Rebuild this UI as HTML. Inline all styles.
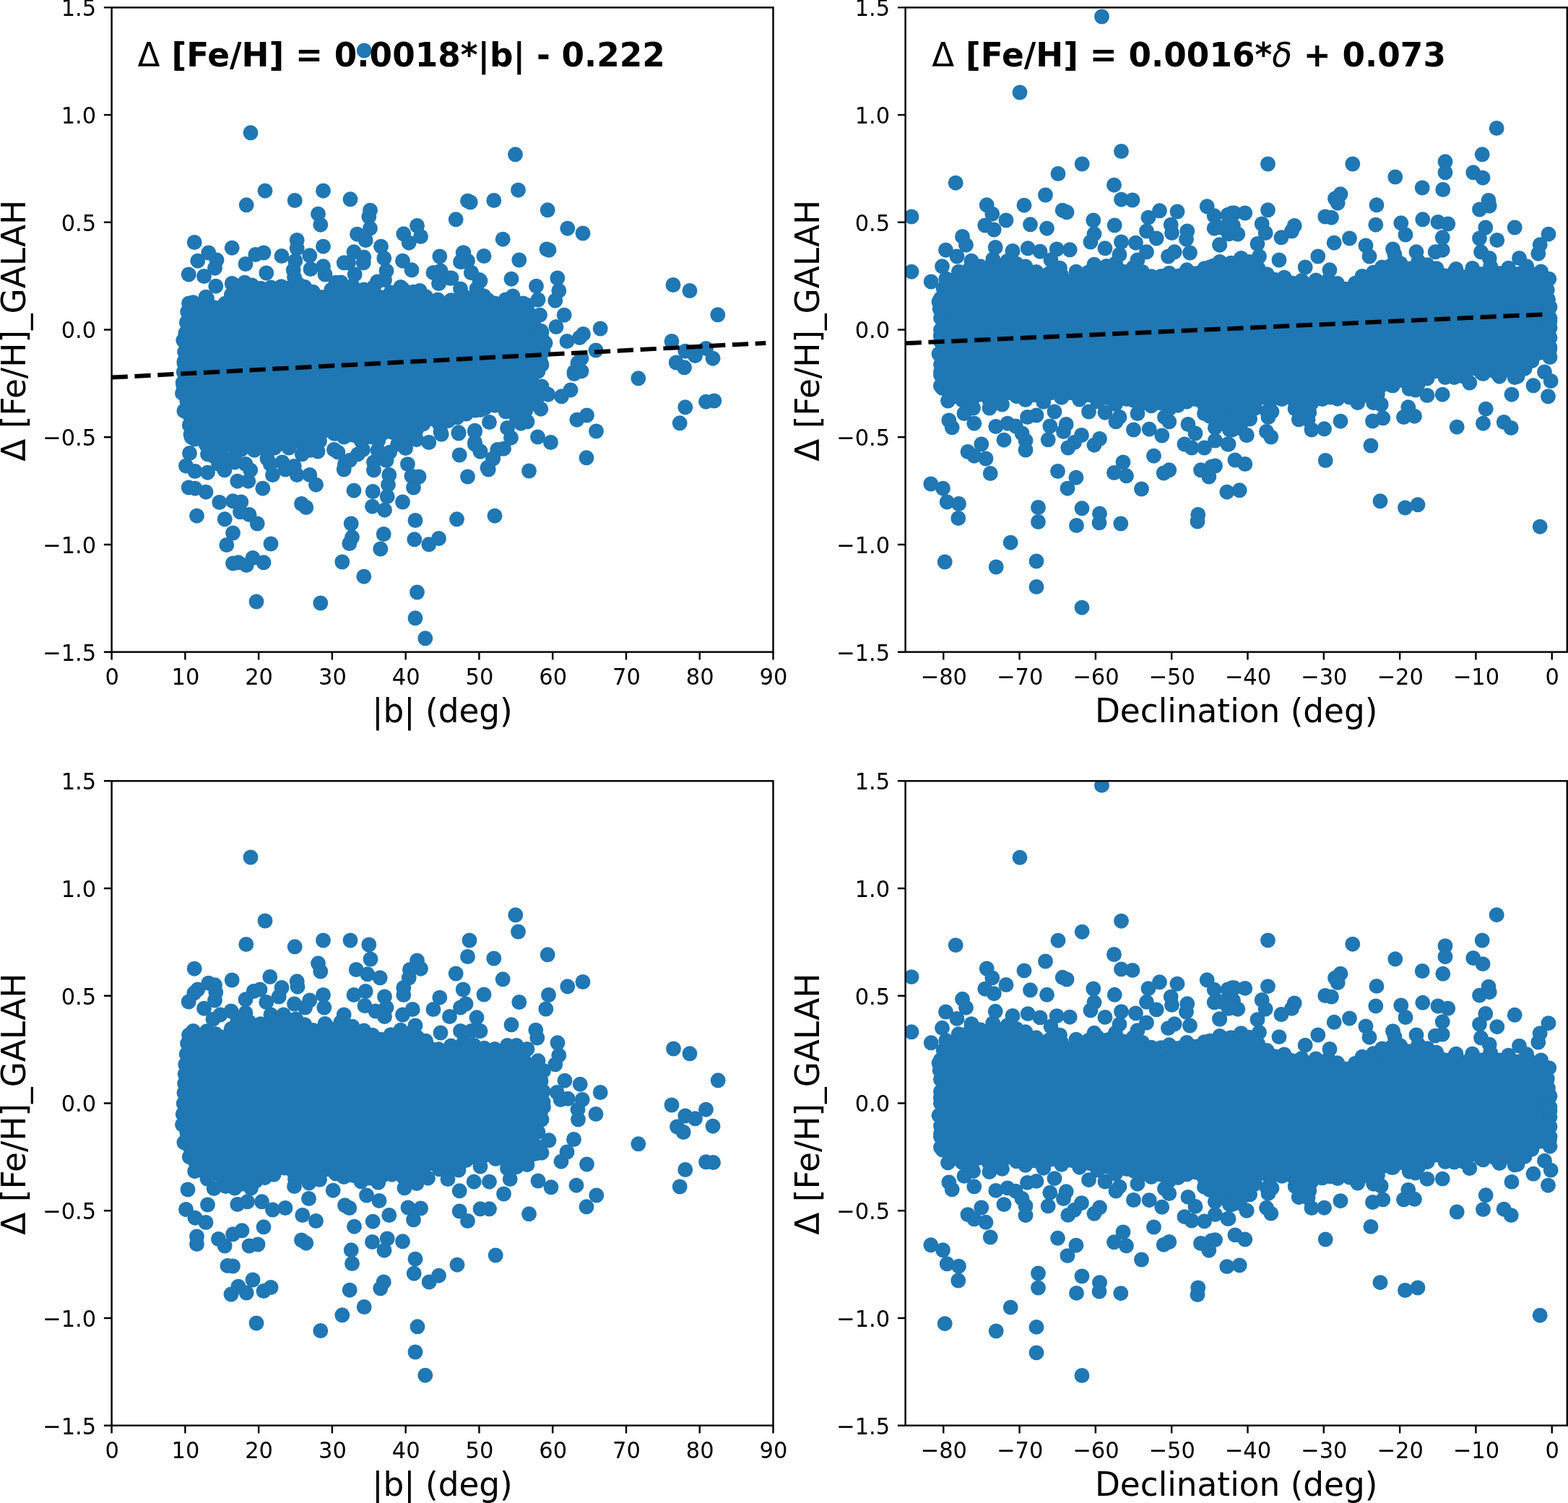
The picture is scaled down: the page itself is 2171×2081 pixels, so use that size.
<!DOCTYPE html>
<html><head><meta charset="utf-8"><style>html,body{margin:0;padding:0;background:#fff;overflow:hidden}svg{display:block}</style></head>
<body><svg width="2171" height="2081" viewBox="0 0 2171 2081">
<rect width="2171" height="2081" fill="#fff"/>
<clipPath id="clipTL"><rect x="154.6" y="10.4" width="915.9" height="892.3"/></clipPath>
<g clip-path="url(#clipTL)" fill="#1f77b4">
<polygon points="257.0,418.0 282.0,411.0 307.0,418.0 325.0,393.0 357.0,396.0 386.0,393.0 407.0,386.0 443.0,407.0 471.0,386.0 504.0,396.0 529.0,407.0 557.0,393.0 593.0,407.0 611.0,418.0 646.0,407.0 675.0,414.0 700.0,421.0 729.0,418.0 743.0,436.0 754.0,457.0 757.0,471.0 757.0,486.0 750.0,514.0 743.0,532.0 750.0,550.0 745.0,560.0 720.0,580.0 690.0,562.5 662.5,570.0 637.5,580.0 612.5,590.0 590.0,590.0 580.0,612.5 562.5,620.0 545.0,602.5 525.0,615.0 500.0,615.0 475.0,610.0 450.0,600.0 440.0,615.0 425.0,620.0 405.0,615.0 390.0,600.0 375.0,610.0 350.0,620.0 330.0,625.0 305.0,620.0 282.5,620.0 265.0,610.0 257.5,590.0 250.0,570.0 247.5,545.0 250.0,500.0 252.0,460.0 255.0,430.0"/>
<circle cx="261.6" cy="419.9" r="10.45"/>
<circle cx="286.5" cy="413.2" r="10.45"/>
<circle cx="311.5" cy="420.3" r="10.45"/>
<circle cx="320.3" cy="408.1" r="10.45"/>
<circle cx="329.1" cy="395.9" r="10.45"/>
<circle cx="345.0" cy="397.5" r="10.45"/>
<circle cx="360.8" cy="399.2" r="10.45"/>
<circle cx="375.1" cy="397.9" r="10.45"/>
<circle cx="389.4" cy="396.7" r="10.45"/>
<circle cx="409.9" cy="390.1" r="10.45"/>
<circle cx="421.7" cy="397.2" r="10.45"/>
<circle cx="433.5" cy="404.3" r="10.45"/>
<circle cx="445.3" cy="411.4" r="10.45"/>
<circle cx="458.7" cy="401.2" r="10.45"/>
<circle cx="472.0" cy="390.9" r="10.45"/>
<circle cx="487.9" cy="396.0" r="10.45"/>
<circle cx="503.8" cy="401.0" r="10.45"/>
<circle cx="515.7" cy="406.4" r="10.45"/>
<circle cx="527.6" cy="411.8" r="10.45"/>
<circle cx="541.2" cy="404.7" r="10.45"/>
<circle cx="554.8" cy="397.5" r="10.45"/>
<circle cx="572.2" cy="404.2" r="10.45"/>
<circle cx="589.7" cy="410.8" r="10.45"/>
<circle cx="607.2" cy="421.3" r="10.45"/>
<circle cx="624.6" cy="415.6" r="10.45"/>
<circle cx="642.0" cy="409.9" r="10.45"/>
<circle cx="656.3" cy="413.2" r="10.45"/>
<circle cx="670.7" cy="416.5" r="10.45"/>
<circle cx="695.5" cy="423.1" r="10.45"/>
<circle cx="709.9" cy="421.5" r="10.45"/>
<circle cx="724.4" cy="419.9" r="10.45"/>
<circle cx="738.2" cy="437.5" r="10.45"/>
<circle cx="749.1" cy="458.1" r="10.45"/>
<circle cx="752.1" cy="471.8" r="10.45"/>
<circle cx="752.0" cy="486.5" r="10.45"/>
<circle cx="748.5" cy="500.3" r="10.45"/>
<circle cx="745.0" cy="514.0" r="10.45"/>
<circle cx="738.0" cy="531.6" r="10.45"/>
<circle cx="745.0" cy="549.3" r="10.45"/>
<circle cx="740.1" cy="559.1" r="10.45"/>
<circle cx="727.6" cy="568.8" r="10.45"/>
<circle cx="715.2" cy="578.6" r="10.45"/>
<circle cx="700.2" cy="569.9" r="10.45"/>
<circle cx="685.2" cy="561.3" r="10.45"/>
<circle cx="671.4" cy="564.9" r="10.45"/>
<circle cx="657.8" cy="568.4" r="10.45"/>
<circle cx="645.4" cy="573.1" r="10.45"/>
<circle cx="633.0" cy="577.9" r="10.45"/>
<circle cx="620.6" cy="582.6" r="10.45"/>
<circle cx="608.3" cy="587.2" r="10.45"/>
<circle cx="586.1" cy="586.8" r="10.45"/>
<circle cx="576.8" cy="608.7" r="10.45"/>
<circle cx="559.9" cy="615.7" r="10.45"/>
<circle cx="542.7" cy="598.1" r="10.45"/>
<circle cx="523.7" cy="610.2" r="10.45"/>
<circle cx="499.9" cy="610.0" r="10.45"/>
<circle cx="476.2" cy="605.1" r="10.45"/>
<circle cx="464.3" cy="600.4" r="10.45"/>
<circle cx="452.5" cy="595.6" r="10.45"/>
<circle cx="442.5" cy="610.7" r="10.45"/>
<circle cx="427.9" cy="615.9" r="10.45"/>
<circle cx="408.4" cy="611.3" r="10.45"/>
<circle cx="393.9" cy="596.9" r="10.45"/>
<circle cx="379.0" cy="606.9" r="10.45"/>
<circle cx="366.5" cy="612.0" r="10.45"/>
<circle cx="354.1" cy="617.1" r="10.45"/>
<circle cx="334.2" cy="622.3" r="10.45"/>
<circle cx="309.4" cy="617.6" r="10.45"/>
<circle cx="287.0" cy="617.8" r="10.45"/>
<circle cx="269.6" cy="608.1" r="10.45"/>
<circle cx="262.3" cy="588.5" r="10.45"/>
<circle cx="254.9" cy="568.9" r="10.45"/>
<circle cx="252.5" cy="544.4" r="10.45"/>
<circle cx="253.3" cy="529.7" r="10.45"/>
<circle cx="254.2" cy="515.0" r="10.45"/>
<circle cx="255.0" cy="500.3" r="10.45"/>
<circle cx="255.6" cy="487.2" r="10.45"/>
<circle cx="256.3" cy="474.2" r="10.45"/>
<circle cx="256.9" cy="461.1" r="10.45"/>
<circle cx="258.3" cy="446.4" r="10.45"/>
<circle cx="259.7" cy="431.6" r="10.45"/>
<circle cx="504.2" cy="70.0" r="10.45"/>
<circle cx="347.0" cy="183.8" r="10.45"/>
<circle cx="367.0" cy="264.2" r="10.45"/>
<circle cx="447.5" cy="264.2" r="10.45"/>
<circle cx="341.2" cy="283.8" r="10.45"/>
<circle cx="408.2" cy="277.5" r="10.45"/>
<circle cx="485.0" cy="275.8" r="10.45"/>
<circle cx="440.5" cy="296.2" r="10.45"/>
<circle cx="443.8" cy="311.2" r="10.45"/>
<circle cx="512.5" cy="291.2" r="10.45"/>
<circle cx="510.8" cy="300.0" r="10.45"/>
<circle cx="512.5" cy="316.2" r="10.45"/>
<circle cx="494.5" cy="324.2" r="10.45"/>
<circle cx="506.2" cy="332.5" r="10.45"/>
<circle cx="490.0" cy="348.8" r="10.45"/>
<circle cx="503.8" cy="356.2" r="10.45"/>
<circle cx="503.2" cy="363.8" r="10.45"/>
<circle cx="482.5" cy="363.8" r="10.45"/>
<circle cx="491.2" cy="380.0" r="10.45"/>
<circle cx="527.5" cy="341.2" r="10.45"/>
<circle cx="531.8" cy="357.5" r="10.45"/>
<circle cx="535.0" cy="375.0" r="10.45"/>
<circle cx="532.5" cy="387.5" r="10.45"/>
<circle cx="522.5" cy="390.0" r="10.45"/>
<circle cx="558.8" cy="323.8" r="10.45"/>
<circle cx="577.5" cy="312.5" r="10.45"/>
<circle cx="582.5" cy="327.5" r="10.45"/>
<circle cx="566.2" cy="336.2" r="10.45"/>
<circle cx="631.2" cy="303.8" r="10.45"/>
<circle cx="647.5" cy="278.2" r="10.45"/>
<circle cx="651.2" cy="280.0" r="10.45"/>
<circle cx="683.8" cy="277.5" r="10.45"/>
<circle cx="608.8" cy="355.0" r="10.45"/>
<circle cx="641.2" cy="350.0" r="10.45"/>
<circle cx="637.5" cy="362.5" r="10.45"/>
<circle cx="647.5" cy="361.2" r="10.45"/>
<circle cx="670.0" cy="354.5" r="10.45"/>
<circle cx="557.5" cy="361.2" r="10.45"/>
<circle cx="570.0" cy="373.8" r="10.45"/>
<circle cx="600.0" cy="377.5" r="10.45"/>
<circle cx="610.0" cy="375.0" r="10.45"/>
<circle cx="622.5" cy="385.0" r="10.45"/>
<circle cx="652.5" cy="377.5" r="10.45"/>
<circle cx="665.0" cy="388.8" r="10.45"/>
<circle cx="607.5" cy="392.5" r="10.45"/>
<circle cx="660.0" cy="400.0" r="10.45"/>
<circle cx="637.5" cy="400.0" r="10.45"/>
<circle cx="675.0" cy="415.0" r="10.45"/>
<circle cx="606.2" cy="415.0" r="10.45"/>
<circle cx="269.2" cy="335.5" r="10.45"/>
<circle cx="321.2" cy="343.2" r="10.45"/>
<circle cx="288.8" cy="350.0" r="10.45"/>
<circle cx="300.0" cy="360.0" r="10.45"/>
<circle cx="273.8" cy="361.2" r="10.45"/>
<circle cx="297.5" cy="371.2" r="10.45"/>
<circle cx="261.2" cy="380.0" r="10.45"/>
<circle cx="282.5" cy="382.5" r="10.45"/>
<circle cx="340.0" cy="365.5" r="10.45"/>
<circle cx="353.8" cy="352.5" r="10.45"/>
<circle cx="365.0" cy="350.0" r="10.45"/>
<circle cx="390.0" cy="354.5" r="10.45"/>
<circle cx="368.8" cy="378.0" r="10.45"/>
<circle cx="411.2" cy="332.5" r="10.45"/>
<circle cx="411.2" cy="343.8" r="10.45"/>
<circle cx="428.8" cy="353.8" r="10.45"/>
<circle cx="447.5" cy="341.2" r="10.45"/>
<circle cx="408.8" cy="361.2" r="10.45"/>
<circle cx="406.2" cy="373.8" r="10.45"/>
<circle cx="407.5" cy="383.8" r="10.45"/>
<circle cx="447.5" cy="368.8" r="10.45"/>
<circle cx="450.0" cy="380.0" r="10.45"/>
<circle cx="430.0" cy="372.5" r="10.45"/>
<circle cx="465.0" cy="391.2" r="10.45"/>
<circle cx="476.2" cy="363.8" r="10.45"/>
<circle cx="298.8" cy="396.2" r="10.45"/>
<circle cx="321.2" cy="392.5" r="10.45"/>
<circle cx="338.8" cy="391.2" r="10.45"/>
<circle cx="348.8" cy="395.0" r="10.45"/>
<circle cx="376.2" cy="402.5" r="10.45"/>
<circle cx="393.8" cy="398.8" r="10.45"/>
<circle cx="415.0" cy="395.0" r="10.45"/>
<circle cx="500.0" cy="402.5" r="10.45"/>
<circle cx="517.5" cy="397.5" r="10.45"/>
<circle cx="557.5" cy="400.0" r="10.45"/>
<circle cx="581.2" cy="402.5" r="10.45"/>
<circle cx="582.5" cy="413.8" r="10.45"/>
<circle cx="285.0" cy="411.2" r="10.45"/>
<circle cx="267.5" cy="418.8" r="10.45"/>
<circle cx="268.8" cy="430.0" r="10.45"/>
<circle cx="267.5" cy="440.0" r="10.45"/>
<circle cx="266.2" cy="455.0" r="10.45"/>
<circle cx="258.8" cy="470.0" r="10.45"/>
<circle cx="260.0" cy="500.0" r="10.45"/>
<circle cx="713.5" cy="213.8" r="10.45"/>
<circle cx="717.5" cy="263.2" r="10.45"/>
<circle cx="758.2" cy="290.8" r="10.45"/>
<circle cx="785.8" cy="316.2" r="10.45"/>
<circle cx="807.0" cy="323.0" r="10.45"/>
<circle cx="696.2" cy="331.2" r="10.45"/>
<circle cx="757.0" cy="345.0" r="10.45"/>
<circle cx="760.0" cy="346.2" r="10.45"/>
<circle cx="718.8" cy="360.0" r="10.45"/>
<circle cx="708.0" cy="386.2" r="10.45"/>
<circle cx="742.5" cy="396.2" r="10.45"/>
<circle cx="771.8" cy="385.0" r="10.45"/>
<circle cx="773.8" cy="402.5" r="10.45"/>
<circle cx="768.8" cy="416.2" r="10.45"/>
<circle cx="745.0" cy="415.0" r="10.45"/>
<circle cx="781.2" cy="436.2" r="10.45"/>
<circle cx="747.5" cy="436.2" r="10.45"/>
<circle cx="831.2" cy="455.0" r="10.45"/>
<circle cx="807.5" cy="462.5" r="10.45"/>
<circle cx="802.5" cy="467.5" r="10.45"/>
<circle cx="785.0" cy="472.5" r="10.45"/>
<circle cx="770.0" cy="452.5" r="10.45"/>
<circle cx="932.0" cy="394.5" r="10.45"/>
<circle cx="955.0" cy="402.5" r="10.45"/>
<circle cx="993.8" cy="435.8" r="10.45"/>
<circle cx="930.0" cy="472.5" r="10.45"/>
<circle cx="948.8" cy="486.2" r="10.45"/>
<circle cx="962.5" cy="492.5" r="10.45"/>
<circle cx="977.5" cy="482.5" r="10.45"/>
<circle cx="987.0" cy="496.2" r="10.45"/>
<circle cx="936.2" cy="502.0" r="10.45"/>
<circle cx="947.5" cy="508.8" r="10.45"/>
<circle cx="825.0" cy="485.0" r="10.45"/>
<circle cx="805.0" cy="496.2" r="10.45"/>
<circle cx="800.0" cy="502.5" r="10.45"/>
<circle cx="795.0" cy="515.0" r="10.45"/>
<circle cx="750.0" cy="505.0" r="10.45"/>
<circle cx="710.0" cy="410.0" r="10.45"/>
<circle cx="730.0" cy="422.5" r="10.45"/>
<circle cx="750.0" cy="460.0" r="10.45"/>
<circle cx="755.0" cy="475.0" r="10.45"/>
<circle cx="642.0" cy="350.0" r="10.45"/>
<circle cx="638.8" cy="362.5" r="10.45"/>
<circle cx="652.5" cy="377.5" r="10.45"/>
<circle cx="663.8" cy="387.5" r="10.45"/>
<circle cx="625.0" cy="385.0" r="10.45"/>
<circle cx="670.0" cy="410.0" r="10.45"/>
<circle cx="685.0" cy="420.0" r="10.45"/>
<circle cx="700.0" cy="415.0" r="10.45"/>
<circle cx="272.5" cy="714.2" r="10.45"/>
<circle cx="311.2" cy="718.8" r="10.45"/>
<circle cx="322.5" cy="738.0" r="10.45"/>
<circle cx="313.8" cy="754.5" r="10.45"/>
<circle cx="375.0" cy="753.0" r="10.45"/>
<circle cx="356.2" cy="725.0" r="10.45"/>
<circle cx="345.0" cy="712.5" r="10.45"/>
<circle cx="332.5" cy="708.8" r="10.45"/>
<circle cx="333.8" cy="695.0" r="10.45"/>
<circle cx="322.5" cy="693.8" r="10.45"/>
<circle cx="303.8" cy="695.5" r="10.45"/>
<circle cx="285.0" cy="681.2" r="10.45"/>
<circle cx="270.0" cy="676.2" r="10.45"/>
<circle cx="261.2" cy="675.0" r="10.45"/>
<circle cx="257.5" cy="645.0" r="10.45"/>
<circle cx="270.0" cy="652.5" r="10.45"/>
<circle cx="287.5" cy="654.2" r="10.45"/>
<circle cx="328.8" cy="666.2" r="10.45"/>
<circle cx="343.8" cy="666.2" r="10.45"/>
<circle cx="363.8" cy="676.2" r="10.45"/>
<circle cx="377.5" cy="657.5" r="10.45"/>
<circle cx="395.0" cy="650.0" r="10.45"/>
<circle cx="411.2" cy="657.5" r="10.45"/>
<circle cx="428.8" cy="657.5" r="10.45"/>
<circle cx="437.5" cy="671.2" r="10.45"/>
<circle cx="417.5" cy="697.5" r="10.45"/>
<circle cx="423.8" cy="702.5" r="10.45"/>
<circle cx="322.5" cy="780.0" r="10.45"/>
<circle cx="330.0" cy="778.8" r="10.45"/>
<circle cx="341.2" cy="782.5" r="10.45"/>
<circle cx="350.0" cy="772.5" r="10.45"/>
<circle cx="365.0" cy="778.8" r="10.45"/>
<circle cx="355.0" cy="833.0" r="10.45"/>
<circle cx="443.8" cy="835.0" r="10.45"/>
<circle cx="473.8" cy="778.0" r="10.45"/>
<circle cx="503.8" cy="798.2" r="10.45"/>
<circle cx="486.2" cy="725.0" r="10.45"/>
<circle cx="487.5" cy="743.8" r="10.45"/>
<circle cx="483.8" cy="752.5" r="10.45"/>
<circle cx="490.0" cy="679.2" r="10.45"/>
<circle cx="516.2" cy="680.5" r="10.45"/>
<circle cx="515.5" cy="701.2" r="10.45"/>
<circle cx="532.5" cy="706.2" r="10.45"/>
<circle cx="536.2" cy="687.5" r="10.45"/>
<circle cx="557.5" cy="695.0" r="10.45"/>
<circle cx="531.2" cy="739.5" r="10.45"/>
<circle cx="526.8" cy="760.0" r="10.45"/>
<circle cx="575.0" cy="720.5" r="10.45"/>
<circle cx="573.8" cy="746.8" r="10.45"/>
<circle cx="593.8" cy="753.8" r="10.45"/>
<circle cx="607.5" cy="745.5" r="10.45"/>
<circle cx="632.5" cy="718.8" r="10.45"/>
<circle cx="685.0" cy="714.2" r="10.45"/>
<circle cx="577.5" cy="820.0" r="10.45"/>
<circle cx="575.0" cy="855.8" r="10.45"/>
<circle cx="588.8" cy="883.8" r="10.45"/>
<circle cx="572.5" cy="675.0" r="10.45"/>
<circle cx="580.0" cy="660.0" r="10.45"/>
<circle cx="537.5" cy="671.2" r="10.45"/>
<circle cx="538.8" cy="657.5" r="10.45"/>
<circle cx="535.0" cy="637.5" r="10.45"/>
<circle cx="517.5" cy="640.0" r="10.45"/>
<circle cx="476.2" cy="650.0" r="10.45"/>
<circle cx="477.5" cy="642.5" r="10.45"/>
<circle cx="647.5" cy="660.0" r="10.45"/>
<circle cx="636.2" cy="630.0" r="10.45"/>
<circle cx="635.0" cy="600.0" r="10.45"/>
<circle cx="657.5" cy="597.5" r="10.45"/>
<circle cx="657.5" cy="615.0" r="10.45"/>
<circle cx="665.0" cy="625.0" r="10.45"/>
<circle cx="676.2" cy="650.0" r="10.45"/>
<circle cx="682.5" cy="635.0" r="10.45"/>
<circle cx="688.8" cy="622.5" r="10.45"/>
<circle cx="677.5" cy="584.5" r="10.45"/>
<circle cx="665.0" cy="567.5" r="10.45"/>
<circle cx="593.8" cy="612.5" r="10.45"/>
<circle cx="550.0" cy="602.5" r="10.45"/>
<circle cx="610.0" cy="597.5" r="10.45"/>
<circle cx="462.5" cy="622.5" r="10.45"/>
<circle cx="462.5" cy="600.0" r="10.45"/>
<circle cx="502.5" cy="622.5" r="10.45"/>
<circle cx="440.0" cy="625.0" r="10.45"/>
<circle cx="423.8" cy="617.5" r="10.45"/>
<circle cx="392.5" cy="585.0" r="10.45"/>
<circle cx="370.0" cy="635.0" r="10.45"/>
<circle cx="380.0" cy="620.0" r="10.45"/>
<circle cx="400.0" cy="620.0" r="10.45"/>
<circle cx="295.0" cy="631.2" r="10.45"/>
<circle cx="310.0" cy="635.0" r="10.45"/>
<circle cx="325.0" cy="640.0" r="10.45"/>
<circle cx="340.0" cy="642.5" r="10.45"/>
<circle cx="262.5" cy="627.5" r="10.45"/>
<circle cx="265.0" cy="605.0" r="10.45"/>
<circle cx="285.0" cy="615.0" r="10.45"/>
<circle cx="262.5" cy="571.2" r="10.45"/>
<circle cx="253.8" cy="543.8" r="10.45"/>
<circle cx="253.8" cy="533.8" r="10.45"/>
<circle cx="255.0" cy="502.5" r="10.45"/>
<circle cx="253.8" cy="471.2" r="10.45"/>
<circle cx="265.0" cy="452.5" r="10.45"/>
<circle cx="883.8" cy="523.8" r="10.45"/>
<circle cx="948.8" cy="563.8" r="10.45"/>
<circle cx="941.2" cy="585.8" r="10.45"/>
<circle cx="977.5" cy="556.2" r="10.45"/>
<circle cx="988.8" cy="555.0" r="10.45"/>
<circle cx="798.8" cy="581.2" r="10.45"/>
<circle cx="812.5" cy="575.0" r="10.45"/>
<circle cx="825.5" cy="597.0" r="10.45"/>
<circle cx="812.0" cy="633.8" r="10.45"/>
<circle cx="732.5" cy="652.0" r="10.45"/>
<circle cx="762.5" cy="612.5" r="10.45"/>
<circle cx="744.5" cy="605.0" r="10.45"/>
<circle cx="707.5" cy="606.2" r="10.45"/>
<circle cx="697.5" cy="621.2" r="10.45"/>
<circle cx="702.5" cy="592.5" r="10.45"/>
<circle cx="730.0" cy="583.8" r="10.45"/>
<circle cx="721.2" cy="586.2" r="10.45"/>
<circle cx="748.8" cy="566.2" r="10.45"/>
<circle cx="758.8" cy="546.2" r="10.45"/>
<circle cx="777.5" cy="548.8" r="10.45"/>
<circle cx="790.0" cy="540.0" r="10.45"/>
<circle cx="750.0" cy="535.0" r="10.45"/>
<circle cx="805.0" cy="513.8" r="10.45"/>
<circle cx="795.0" cy="517.5" r="10.45"/>
<circle cx="657.5" cy="596.2" r="10.45"/>
<circle cx="635.0" cy="598.8" r="10.45"/>
<circle cx="657.5" cy="612.5" r="10.45"/>
<circle cx="665.0" cy="625.0" r="10.45"/>
<circle cx="682.5" cy="635.0" r="10.45"/>
<circle cx="675.0" cy="647.5" r="10.45"/>
<circle cx="275.1" cy="606.8" r="10.45"/>
<circle cx="297.1" cy="615.1" r="10.45"/>
<circle cx="313.7" cy="615.1" r="10.45"/>
<circle cx="335.7" cy="615.1" r="10.45"/>
<circle cx="352.2" cy="623.4" r="10.45"/>
<circle cx="368.8" cy="623.4" r="10.45"/>
<circle cx="385.3" cy="615.1" r="10.45"/>
<circle cx="401.8" cy="609.6" r="10.45"/>
<circle cx="418.3" cy="628.9" r="10.45"/>
<circle cx="390.8" cy="639.9" r="10.45"/>
<circle cx="407.3" cy="645.4" r="10.45"/>
<circle cx="346.7" cy="650.9" r="10.45"/>
<circle cx="310.9" cy="650.9" r="10.45"/>
<circle cx="302.6" cy="642.6" r="10.45"/>
<circle cx="523.0" cy="623.4" r="10.45"/>
<circle cx="517.5" cy="650.9" r="10.45"/>
<circle cx="564.4" cy="642.6" r="10.45"/>
<circle cx="569.9" cy="659.2" r="10.45"/>
<circle cx="561.6" cy="620.6" r="10.45"/>
<circle cx="550.6" cy="615.1" r="10.45"/>
<circle cx="539.6" cy="626.1" r="10.45"/>
<circle cx="611.2" cy="601.3" r="10.45"/>
<circle cx="467.9" cy="626.1" r="10.45"/>
<circle cx="484.5" cy="637.1" r="10.45"/>
<circle cx="495.5" cy="628.9" r="10.45"/>
<circle cx="264.1" cy="601.3" r="10.45"/>
<circle cx="287.5" cy="628.9" r="10.45"/>
<circle cx="324.7" cy="631.6" r="10.45"/>
<circle cx="374.3" cy="642.6" r="10.45"/>
<circle cx="429.4" cy="623.4" r="10.45"/>
</g>
<g clip-path="url(#clipTL)"><line x1="154.6" y1="522.6" x2="1060.3" y2="474.9" stroke="#000" stroke-width="6.0" stroke-dasharray="22.27 9.6"/></g>
<rect x="154.6" y="10.4" width="915.9" height="892.3" fill="none" stroke="#000" stroke-width="2.44" stroke-linejoin="miter"/>
<path d="M143.9 902.70H154.6M143.9 753.98H154.6M143.9 605.27H154.6M143.9 456.55H154.6M143.9 307.83H154.6M143.9 159.12H154.6M143.9 10.40H154.6M154.60 902.7V913.4M256.37 902.7V913.4M358.13 902.7V913.4M459.90 902.7V913.4M561.67 902.7V913.4M663.43 902.7V913.4M765.20 902.7V913.4M866.97 902.7V913.4M968.73 902.7V913.4M1070.50 902.7V913.4" stroke="#000" stroke-width="2.44" fill="none"/>
<g font-family="DejaVu Sans, sans-serif" font-size="30.56" fill="#000">
<text transform="translate(133.2,914.6) scale(1,1.065)" text-anchor="end">−1.5</text>
<text transform="translate(133.2,765.9) scale(1,1.065)" text-anchor="end">−1.0</text>
<text transform="translate(133.2,617.2) scale(1,1.065)" text-anchor="end">−0.5</text>
<text transform="translate(133.2,468.4) scale(1,1.065)" text-anchor="end">0.0</text>
<text transform="translate(133.2,319.7) scale(1,1.065)" text-anchor="end">0.5</text>
<text transform="translate(133.2,171.0) scale(1,1.065)" text-anchor="end">1.0</text>
<text transform="translate(133.2,22.3) scale(1,1.065)" text-anchor="end">1.5</text>
<text transform="translate(155.1,947.9) scale(1,1.065)" text-anchor="middle">0</text>
<text transform="translate(256.9,947.9) scale(1,1.065)" text-anchor="middle">10</text>
<text transform="translate(358.6,947.9) scale(1,1.065)" text-anchor="middle">20</text>
<text transform="translate(460.4,947.9) scale(1,1.065)" text-anchor="middle">30</text>
<text transform="translate(562.2,947.9) scale(1,1.065)" text-anchor="middle">40</text>
<text transform="translate(663.9,947.9) scale(1,1.065)" text-anchor="middle">50</text>
<text transform="translate(765.7,947.9) scale(1,1.065)" text-anchor="middle">60</text>
<text transform="translate(867.5,947.9) scale(1,1.065)" text-anchor="middle">70</text>
<text transform="translate(969.2,947.9) scale(1,1.065)" text-anchor="middle">80</text>
<text transform="translate(1071.0,947.9) scale(1,1.065)" text-anchor="middle">90</text>
</g>
<text x="612.5" y="999.5" text-anchor="middle" font-family="DejaVu Sans, sans-serif" font-size="45.35">|b| (deg)</text>
<text transform="translate(34.9,457.8) rotate(-90)" text-anchor="middle" font-family="DejaVu Sans, sans-serif" font-size="45.35">Δ [Fe/H]_GALAH</text>
<clipPath id="clipTR"><rect x="1253.6" y="10.4" width="916.2" height="892.3"/></clipPath>
<g clip-path="url(#clipTR)" fill="#1f77b4">
<polygon points="1297.5,412.5 1305.0,385.0 1322.5,375.0 1352.5,367.5 1370.0,357.5 1390.0,360.0 1415.0,367.5 1430.0,375.0 1465.0,380.0 1490.0,380.0 1515.0,370.0 1540.0,362.5 1565.0,367.5 1590.0,380.0 1605.0,380.0 1615.0,375.0 1640.0,370.0 1665.0,367.5 1690.0,360.0 1730.0,357.5 1756.0,375.0 1781.0,380.0 1806.0,385.0 1826.0,385.0 1843.5,385.0 1856.0,390.0 1881.0,390.0 1906.0,375.0 1931.0,365.0 1943.5,362.5 1968.5,360.0 1993.5,370.0 2018.5,375.0 2043.5,370.0 2068.5,367.5 2093.5,370.0 2118.5,367.5 2138.5,375.0 2146.0,387.5 2151.0,440.0 2151.0,495.0 2126.0,500.0 2106.0,522.0 2081.0,522.0 2056.0,517.0 2031.0,522.0 2006.0,522.0 1981.0,525.0 1956.0,540.0 1931.0,535.0 1918.0,535.0 1906.0,560.0 1881.0,555.0 1856.0,555.0 1831.0,555.0 1816.0,575.0 1801.0,585.0 1786.0,540.0 1771.0,540.0 1756.0,575.0 1746.0,555.0 1731.0,585.0 1706.0,597.0 1681.0,597.0 1665.0,565.0 1640.0,560.0 1615.0,570.0 1590.0,565.0 1565.0,557.0 1540.0,562.0 1515.0,558.0 1490.0,555.0 1465.0,552.0 1440.0,558.0 1415.0,555.0 1390.0,545.0 1365.0,555.0 1340.0,560.0 1315.0,550.0 1297.5,535.0 1297.5,490.0 1297.5,440.0"/>
<circle cx="1302.5" cy="413.1" r="10.45"/>
<circle cx="1306.2" cy="399.5" r="10.45"/>
<circle cx="1309.9" cy="385.9" r="10.45"/>
<circle cx="1327.4" cy="376.1" r="10.45"/>
<circle cx="1342.4" cy="372.4" r="10.45"/>
<circle cx="1357.3" cy="368.8" r="10.45"/>
<circle cx="1374.8" cy="358.9" r="10.45"/>
<circle cx="1394.8" cy="361.5" r="10.45"/>
<circle cx="1407.3" cy="365.2" r="10.45"/>
<circle cx="1419.8" cy="369.0" r="10.45"/>
<circle cx="1434.8" cy="376.4" r="10.45"/>
<circle cx="1452.3" cy="379.0" r="10.45"/>
<circle cx="1469.8" cy="381.5" r="10.45"/>
<circle cx="1494.7" cy="381.7" r="10.45"/>
<circle cx="1507.1" cy="376.9" r="10.45"/>
<circle cx="1519.6" cy="372.1" r="10.45"/>
<circle cx="1532.0" cy="368.5" r="10.45"/>
<circle cx="1544.4" cy="364.9" r="10.45"/>
<circle cx="1569.3" cy="370.1" r="10.45"/>
<circle cx="1581.7" cy="376.4" r="10.45"/>
<circle cx="1594.2" cy="382.7" r="10.45"/>
<circle cx="1609.1" cy="382.9" r="10.45"/>
<circle cx="1618.8" cy="378.2" r="10.45"/>
<circle cx="1643.3" cy="373.8" r="10.45"/>
<circle cx="1667.5" cy="371.8" r="10.45"/>
<circle cx="1679.5" cy="368.3" r="10.45"/>
<circle cx="1691.4" cy="364.8" r="10.45"/>
<circle cx="1704.2" cy="364.1" r="10.45"/>
<circle cx="1716.9" cy="363.3" r="10.45"/>
<circle cx="1729.6" cy="362.5" r="10.45"/>
<circle cx="1741.9" cy="371.1" r="10.45"/>
<circle cx="1754.1" cy="379.6" r="10.45"/>
<circle cx="1778.1" cy="384.1" r="10.45"/>
<circle cx="1802.3" cy="388.4" r="10.45"/>
<circle cx="1822.0" cy="388.0" r="10.45"/>
<circle cx="1839.3" cy="387.7" r="10.45"/>
<circle cx="1851.6" cy="392.4" r="10.45"/>
<circle cx="1876.5" cy="392.1" r="10.45"/>
<circle cx="1889.0" cy="384.6" r="10.45"/>
<circle cx="1901.5" cy="377.1" r="10.45"/>
<circle cx="1914.0" cy="372.1" r="10.45"/>
<circle cx="1926.5" cy="367.1" r="10.45"/>
<circle cx="1938.9" cy="364.6" r="10.45"/>
<circle cx="1963.9" cy="361.9" r="10.45"/>
<circle cx="1976.3" cy="366.8" r="10.45"/>
<circle cx="1988.8" cy="371.6" r="10.45"/>
<circle cx="2013.7" cy="376.4" r="10.45"/>
<circle cx="2038.7" cy="371.4" r="10.45"/>
<circle cx="2063.7" cy="368.8" r="10.45"/>
<circle cx="2088.6" cy="371.2" r="10.45"/>
<circle cx="2113.6" cy="368.7" r="10.45"/>
<circle cx="2133.6" cy="376.0" r="10.45"/>
<circle cx="2141.1" cy="388.4" r="10.45"/>
<circle cx="2142.3" cy="401.3" r="10.45"/>
<circle cx="2143.5" cy="414.3" r="10.45"/>
<circle cx="2144.8" cy="427.3" r="10.45"/>
<circle cx="2146.0" cy="440.3" r="10.45"/>
<circle cx="2146.0" cy="453.9" r="10.45"/>
<circle cx="2146.0" cy="467.4" r="10.45"/>
<circle cx="2146.0" cy="481.0" r="10.45"/>
<circle cx="2146.0" cy="494.6" r="10.45"/>
<circle cx="2121.0" cy="499.5" r="10.45"/>
<circle cx="2111.0" cy="510.4" r="10.45"/>
<circle cx="2101.1" cy="521.2" r="10.45"/>
<circle cx="2076.1" cy="521.2" r="10.45"/>
<circle cx="2051.1" cy="516.2" r="10.45"/>
<circle cx="2026.1" cy="521.1" r="10.45"/>
<circle cx="2001.1" cy="521.0" r="10.45"/>
<circle cx="1976.1" cy="523.8" r="10.45"/>
<circle cx="1963.7" cy="531.1" r="10.45"/>
<circle cx="1951.2" cy="538.4" r="10.45"/>
<circle cx="1926.3" cy="533.4" r="10.45"/>
<circle cx="1913.3" cy="533.3" r="10.45"/>
<circle cx="1907.4" cy="545.5" r="10.45"/>
<circle cx="1901.6" cy="557.7" r="10.45"/>
<circle cx="1876.7" cy="552.5" r="10.45"/>
<circle cx="1851.9" cy="552.2" r="10.45"/>
<circle cx="1827.2" cy="551.8" r="10.45"/>
<circle cx="1812.8" cy="571.2" r="10.45"/>
<circle cx="1798.3" cy="580.8" r="10.45"/>
<circle cx="1793.1" cy="565.9" r="10.45"/>
<circle cx="1788.0" cy="551.0" r="10.45"/>
<circle cx="1782.8" cy="536.2" r="10.45"/>
<circle cx="1768.3" cy="535.8" r="10.45"/>
<circle cx="1761.4" cy="552.9" r="10.45"/>
<circle cx="1754.5" cy="570.2" r="10.45"/>
<circle cx="1744.7" cy="550.2" r="10.45"/>
<circle cx="1737.7" cy="565.1" r="10.45"/>
<circle cx="1730.6" cy="580.0" r="10.45"/>
<circle cx="1718.6" cy="586.0" r="10.45"/>
<circle cx="1706.6" cy="592.0" r="10.45"/>
<circle cx="1682.4" cy="592.2" r="10.45"/>
<circle cx="1674.9" cy="576.4" r="10.45"/>
<circle cx="1667.4" cy="560.6" r="10.45"/>
<circle cx="1643.2" cy="556.2" r="10.45"/>
<circle cx="1630.9" cy="561.3" r="10.45"/>
<circle cx="1618.5" cy="566.4" r="10.45"/>
<circle cx="1593.9" cy="561.9" r="10.45"/>
<circle cx="1581.6" cy="558.2" r="10.45"/>
<circle cx="1569.3" cy="554.4" r="10.45"/>
<circle cx="1544.4" cy="559.6" r="10.45"/>
<circle cx="1519.5" cy="555.9" r="10.45"/>
<circle cx="1494.6" cy="553.1" r="10.45"/>
<circle cx="1469.7" cy="550.4" r="10.45"/>
<circle cx="1444.7" cy="556.4" r="10.45"/>
<circle cx="1419.8" cy="553.6" r="10.45"/>
<circle cx="1407.3" cy="548.7" r="10.45"/>
<circle cx="1394.9" cy="543.8" r="10.45"/>
<circle cx="1382.3" cy="548.8" r="10.45"/>
<circle cx="1369.8" cy="553.7" r="10.45"/>
<circle cx="1344.8" cy="558.8" r="10.45"/>
<circle cx="1332.4" cy="553.9" r="10.45"/>
<circle cx="1319.9" cy="549.0" r="10.45"/>
<circle cx="1302.4" cy="534.2" r="10.45"/>
<circle cx="1302.5" cy="519.3" r="10.45"/>
<circle cx="1302.5" cy="504.5" r="10.45"/>
<circle cx="1302.5" cy="489.7" r="10.45"/>
<circle cx="1302.5" cy="473.2" r="10.45"/>
<circle cx="1302.5" cy="456.7" r="10.45"/>
<circle cx="1302.5" cy="440.3" r="10.45"/>
<circle cx="1302.5" cy="426.7" r="10.45"/>
<circle cx="1525.5" cy="23.0" r="10.45"/>
<circle cx="1412.0" cy="128.0" r="10.45"/>
<circle cx="1552.5" cy="209.5" r="10.45"/>
<circle cx="1498.2" cy="227.0" r="10.45"/>
<circle cx="1465.0" cy="240.5" r="10.45"/>
<circle cx="1323.2" cy="253.2" r="10.45"/>
<circle cx="1447.5" cy="270.0" r="10.45"/>
<circle cx="1542.5" cy="256.2" r="10.45"/>
<circle cx="1552.5" cy="276.2" r="10.45"/>
<circle cx="1568.0" cy="277.0" r="10.45"/>
<circle cx="1262.0" cy="300.0" r="10.45"/>
<circle cx="1366.2" cy="283.8" r="10.45"/>
<circle cx="1373.8" cy="296.2" r="10.45"/>
<circle cx="1393.0" cy="305.0" r="10.45"/>
<circle cx="1418.0" cy="284.2" r="10.45"/>
<circle cx="1471.2" cy="291.2" r="10.45"/>
<circle cx="1477.0" cy="293.8" r="10.45"/>
<circle cx="1426.5" cy="310.8" r="10.45"/>
<circle cx="1449.5" cy="316.2" r="10.45"/>
<circle cx="1363.8" cy="312.0" r="10.45"/>
<circle cx="1376.2" cy="318.0" r="10.45"/>
<circle cx="1513.8" cy="305.0" r="10.45"/>
<circle cx="1543.2" cy="312.0" r="10.45"/>
<circle cx="1515.0" cy="323.8" r="10.45"/>
<circle cx="1510.0" cy="335.0" r="10.45"/>
<circle cx="1530.0" cy="343.8" r="10.45"/>
<circle cx="1332.5" cy="327.5" r="10.45"/>
<circle cx="1337.5" cy="339.2" r="10.45"/>
<circle cx="1309.5" cy="346.2" r="10.45"/>
<circle cx="1378.2" cy="342.5" r="10.45"/>
<circle cx="1402.0" cy="347.5" r="10.45"/>
<circle cx="1423.2" cy="343.8" r="10.45"/>
<circle cx="1440.0" cy="348.2" r="10.45"/>
<circle cx="1463.2" cy="345.0" r="10.45"/>
<circle cx="1481.2" cy="345.8" r="10.45"/>
<circle cx="1590.0" cy="301.2" r="10.45"/>
<circle cx="1605.5" cy="291.8" r="10.45"/>
<circle cx="1630.0" cy="293.0" r="10.45"/>
<circle cx="1621.2" cy="311.2" r="10.45"/>
<circle cx="1622.5" cy="322.5" r="10.45"/>
<circle cx="1643.8" cy="320.0" r="10.45"/>
<circle cx="1642.5" cy="331.2" r="10.45"/>
<circle cx="1601.2" cy="330.0" r="10.45"/>
<circle cx="1587.5" cy="320.0" r="10.45"/>
<circle cx="1671.2" cy="285.8" r="10.45"/>
<circle cx="1681.2" cy="298.8" r="10.45"/>
<circle cx="1681.2" cy="316.2" r="10.45"/>
<circle cx="1700.0" cy="297.5" r="10.45"/>
<circle cx="1708.8" cy="295.0" r="10.45"/>
<circle cx="1723.8" cy="295.0" r="10.45"/>
<circle cx="1707.5" cy="312.5" r="10.45"/>
<circle cx="1701.2" cy="323.8" r="10.45"/>
<circle cx="1713.8" cy="324.2" r="10.45"/>
<circle cx="1688.8" cy="339.2" r="10.45"/>
<circle cx="1552.5" cy="335.0" r="10.45"/>
<circle cx="1572.5" cy="336.2" r="10.45"/>
<circle cx="1587.5" cy="348.8" r="10.45"/>
<circle cx="1575.0" cy="360.0" r="10.45"/>
<circle cx="1550.0" cy="352.5" r="10.45"/>
<circle cx="1647.5" cy="350.0" r="10.45"/>
<circle cx="1626.2" cy="348.8" r="10.45"/>
<circle cx="1617.5" cy="355.0" r="10.45"/>
<circle cx="1717.5" cy="358.8" r="10.45"/>
<circle cx="1675.0" cy="370.0" r="10.45"/>
<circle cx="1688.8" cy="362.5" r="10.45"/>
<circle cx="1262.0" cy="376.2" r="10.45"/>
<circle cx="1289.2" cy="390.0" r="10.45"/>
<circle cx="1304.5" cy="368.8" r="10.45"/>
<circle cx="1345.0" cy="361.2" r="10.45"/>
<circle cx="1325.0" cy="355.0" r="10.45"/>
<circle cx="1467.5" cy="371.2" r="10.45"/>
<circle cx="1455.0" cy="360.0" r="10.45"/>
<circle cx="1490.0" cy="376.2" r="10.45"/>
<circle cx="1515.0" cy="366.2" r="10.45"/>
<circle cx="1607.5" cy="382.5" r="10.45"/>
<circle cx="1652.5" cy="380.0" r="10.45"/>
<circle cx="1300.0" cy="417.5" r="10.45"/>
<circle cx="1301.2" cy="427.5" r="10.45"/>
<circle cx="1315.0" cy="445.0" r="10.45"/>
<circle cx="1302.5" cy="465.0" r="10.45"/>
<circle cx="1755.5" cy="227.0" r="10.45"/>
<circle cx="1872.8" cy="227.0" r="10.45"/>
<circle cx="2072.2" cy="177.5" r="10.45"/>
<circle cx="2052.2" cy="213.8" r="10.45"/>
<circle cx="2001.0" cy="223.8" r="10.45"/>
<circle cx="2001.0" cy="238.8" r="10.45"/>
<circle cx="2039.8" cy="238.8" r="10.45"/>
<circle cx="2053.0" cy="246.2" r="10.45"/>
<circle cx="1931.8" cy="245.0" r="10.45"/>
<circle cx="1969.2" cy="260.0" r="10.45"/>
<circle cx="1997.8" cy="262.5" r="10.45"/>
<circle cx="1856.0" cy="268.8" r="10.45"/>
<circle cx="1848.5" cy="275.0" r="10.45"/>
<circle cx="1852.2" cy="281.2" r="10.45"/>
<circle cx="1906.0" cy="283.8" r="10.45"/>
<circle cx="2061.0" cy="277.5" r="10.45"/>
<circle cx="2062.2" cy="285.0" r="10.45"/>
<circle cx="2048.5" cy="290.0" r="10.45"/>
<circle cx="1755.5" cy="290.8" r="10.45"/>
<circle cx="1834.8" cy="300.0" r="10.45"/>
<circle cx="1843.5" cy="301.2" r="10.45"/>
<circle cx="1792.2" cy="312.5" r="10.45"/>
<circle cx="1788.5" cy="320.0" r="10.45"/>
<circle cx="1774.0" cy="328.8" r="10.45"/>
<circle cx="1747.2" cy="310.0" r="10.45"/>
<circle cx="1752.2" cy="322.5" r="10.45"/>
<circle cx="1741.0" cy="337.5" r="10.45"/>
<circle cx="1904.8" cy="311.2" r="10.45"/>
<circle cx="1939.8" cy="308.8" r="10.45"/>
<circle cx="1946.0" cy="325.0" r="10.45"/>
<circle cx="1969.8" cy="303.8" r="10.45"/>
<circle cx="1991.0" cy="307.5" r="10.45"/>
<circle cx="2004.8" cy="310.0" r="10.45"/>
<circle cx="1997.2" cy="328.8" r="10.45"/>
<circle cx="1997.2" cy="346.2" r="10.45"/>
<circle cx="1987.2" cy="348.8" r="10.45"/>
<circle cx="2056.8" cy="315.0" r="10.45"/>
<circle cx="2048.5" cy="330.0" r="10.45"/>
<circle cx="2072.8" cy="332.5" r="10.45"/>
<circle cx="2097.2" cy="315.0" r="10.45"/>
<circle cx="2144.0" cy="324.2" r="10.45"/>
<circle cx="2132.2" cy="338.8" r="10.45"/>
<circle cx="2129.8" cy="351.2" r="10.45"/>
<circle cx="2103.5" cy="357.5" r="10.45"/>
<circle cx="2050.5" cy="348.8" r="10.45"/>
<circle cx="2062.2" cy="357.5" r="10.45"/>
<circle cx="2144.8" cy="386.2" r="10.45"/>
<circle cx="2146.0" cy="425.0" r="10.45"/>
<circle cx="2144.8" cy="445.0" r="10.45"/>
<circle cx="2144.8" cy="465.0" r="10.45"/>
<circle cx="1847.2" cy="336.2" r="10.45"/>
<circle cx="1868.5" cy="330.0" r="10.45"/>
<circle cx="1891.0" cy="340.0" r="10.45"/>
<circle cx="1896.0" cy="355.0" r="10.45"/>
<circle cx="1824.8" cy="355.0" r="10.45"/>
<circle cx="1928.5" cy="345.0" r="10.45"/>
<circle cx="1961.0" cy="348.8" r="10.45"/>
<circle cx="1931.0" cy="352.5" r="10.45"/>
<circle cx="1841.0" cy="373.8" r="10.45"/>
<circle cx="1886.0" cy="382.5" r="10.45"/>
<circle cx="1913.5" cy="370.0" r="10.45"/>
<circle cx="1771.0" cy="360.0" r="10.45"/>
<circle cx="1718.5" cy="357.5" r="10.45"/>
<circle cx="1807.2" cy="370.0" r="10.45"/>
<circle cx="1743.5" cy="355.0" r="10.45"/>
<circle cx="2016.0" cy="372.5" r="10.45"/>
<circle cx="2042.2" cy="425.0" r="10.45"/>
<circle cx="1706.0" cy="295.0" r="10.45"/>
<circle cx="1691.0" cy="315.0" r="10.45"/>
<circle cx="1708.5" cy="322.5" r="10.45"/>
<circle cx="1688.5" cy="338.8" r="10.45"/>
<circle cx="1718.5" cy="365.0" r="10.45"/>
<circle cx="1288.8" cy="670.0" r="10.45"/>
<circle cx="1305.5" cy="676.2" r="10.45"/>
<circle cx="1311.2" cy="695.0" r="10.45"/>
<circle cx="1327.5" cy="697.5" r="10.45"/>
<circle cx="1326.8" cy="717.5" r="10.45"/>
<circle cx="1308.2" cy="778.0" r="10.45"/>
<circle cx="1379.2" cy="785.0" r="10.45"/>
<circle cx="1399.2" cy="751.2" r="10.45"/>
<circle cx="1435.0" cy="777.0" r="10.45"/>
<circle cx="1435.0" cy="812.5" r="10.45"/>
<circle cx="1498.0" cy="841.2" r="10.45"/>
<circle cx="1437.5" cy="702.5" r="10.45"/>
<circle cx="1437.5" cy="722.5" r="10.45"/>
<circle cx="1498.0" cy="703.8" r="10.45"/>
<circle cx="1490.5" cy="727.5" r="10.45"/>
<circle cx="1522.5" cy="711.2" r="10.45"/>
<circle cx="1522.0" cy="723.8" r="10.45"/>
<circle cx="1551.8" cy="725.0" r="10.45"/>
<circle cx="1658.8" cy="712.5" r="10.45"/>
<circle cx="1658.0" cy="722.0" r="10.45"/>
<circle cx="1580.5" cy="677.0" r="10.45"/>
<circle cx="1698.8" cy="681.2" r="10.45"/>
<circle cx="1716.2" cy="678.8" r="10.45"/>
<circle cx="1478.0" cy="676.2" r="10.45"/>
<circle cx="1490.0" cy="661.2" r="10.45"/>
<circle cx="1464.5" cy="652.5" r="10.45"/>
<circle cx="1542.5" cy="654.5" r="10.45"/>
<circle cx="1555.0" cy="640.0" r="10.45"/>
<circle cx="1559.5" cy="658.8" r="10.45"/>
<circle cx="1597.5" cy="631.2" r="10.45"/>
<circle cx="1611.2" cy="655.0" r="10.45"/>
<circle cx="1618.8" cy="650.8" r="10.45"/>
<circle cx="1662.5" cy="650.8" r="10.45"/>
<circle cx="1673.8" cy="660.0" r="10.45"/>
<circle cx="1677.5" cy="646.2" r="10.45"/>
<circle cx="1682.5" cy="645.0" r="10.45"/>
<circle cx="1710.0" cy="637.0" r="10.45"/>
<circle cx="1723.8" cy="642.5" r="10.45"/>
<circle cx="1371.2" cy="655.5" r="10.45"/>
<circle cx="1365.0" cy="635.0" r="10.45"/>
<circle cx="1348.8" cy="631.2" r="10.45"/>
<circle cx="1340.0" cy="625.5" r="10.45"/>
<circle cx="1358.8" cy="615.0" r="10.45"/>
<circle cx="1390.0" cy="609.2" r="10.45"/>
<circle cx="1420.0" cy="623.0" r="10.45"/>
<circle cx="1420.0" cy="610.0" r="10.45"/>
<circle cx="1415.0" cy="600.0" r="10.45"/>
<circle cx="1451.2" cy="608.8" r="10.45"/>
<circle cx="1478.8" cy="620.0" r="10.45"/>
<circle cx="1487.5" cy="612.5" r="10.45"/>
<circle cx="1497.5" cy="602.5" r="10.45"/>
<circle cx="1515.0" cy="616.2" r="10.45"/>
<circle cx="1522.5" cy="607.5" r="10.45"/>
<circle cx="1318.2" cy="591.8" r="10.45"/>
<circle cx="1313.8" cy="582.0" r="10.45"/>
<circle cx="1348.8" cy="586.2" r="10.45"/>
<circle cx="1378.8" cy="590.5" r="10.45"/>
<circle cx="1395.0" cy="586.2" r="10.45"/>
<circle cx="1406.2" cy="590.0" r="10.45"/>
<circle cx="1453.8" cy="590.0" r="10.45"/>
<circle cx="1472.5" cy="597.5" r="10.45"/>
<circle cx="1476.2" cy="587.5" r="10.45"/>
<circle cx="1545.0" cy="583.8" r="10.45"/>
<circle cx="1569.5" cy="595.0" r="10.45"/>
<circle cx="1591.2" cy="594.2" r="10.45"/>
<circle cx="1608.8" cy="603.0" r="10.45"/>
<circle cx="1618.8" cy="583.8" r="10.45"/>
<circle cx="1612.5" cy="577.5" r="10.45"/>
<circle cx="1645.0" cy="587.5" r="10.45"/>
<circle cx="1655.0" cy="600.0" r="10.45"/>
<circle cx="1640.0" cy="615.0" r="10.45"/>
<circle cx="1650.0" cy="620.0" r="10.45"/>
<circle cx="1667.5" cy="620.0" r="10.45"/>
<circle cx="1682.5" cy="610.0" r="10.45"/>
<circle cx="1700.0" cy="615.0" r="10.45"/>
<circle cx="1702.5" cy="595.0" r="10.45"/>
<circle cx="1715.0" cy="592.5" r="10.45"/>
<circle cx="1726.2" cy="602.5" r="10.45"/>
<circle cx="1667.5" cy="572.5" r="10.45"/>
<circle cx="1707.5" cy="572.5" r="10.45"/>
<circle cx="1575.0" cy="572.5" r="10.45"/>
<circle cx="1560.0" cy="552.5" r="10.45"/>
<circle cx="1550.0" cy="577.5" r="10.45"/>
<circle cx="1530.0" cy="571.2" r="10.45"/>
<circle cx="1507.5" cy="570.0" r="10.45"/>
<circle cx="1435.0" cy="575.0" r="10.45"/>
<circle cx="1422.5" cy="577.5" r="10.45"/>
<circle cx="1460.0" cy="570.0" r="10.45"/>
<circle cx="1387.5" cy="560.0" r="10.45"/>
<circle cx="1370.0" cy="565.0" r="10.45"/>
<circle cx="1347.5" cy="565.0" r="10.45"/>
<circle cx="1335.0" cy="572.5" r="10.45"/>
<circle cx="1312.5" cy="555.0" r="10.45"/>
<circle cx="1305.0" cy="537.5" r="10.45"/>
<circle cx="1302.5" cy="515.0" r="10.45"/>
<circle cx="1300.0" cy="490.0" r="10.45"/>
<circle cx="1302.5" cy="465.0" r="10.45"/>
<circle cx="2132.2" cy="729.2" r="10.45"/>
<circle cx="1911.0" cy="693.8" r="10.45"/>
<circle cx="1945.5" cy="703.0" r="10.45"/>
<circle cx="1963.0" cy="698.8" r="10.45"/>
<circle cx="1898.0" cy="617.0" r="10.45"/>
<circle cx="1835.2" cy="637.5" r="10.45"/>
<circle cx="2017.2" cy="591.2" r="10.45"/>
<circle cx="2053.5" cy="586.2" r="10.45"/>
<circle cx="2057.2" cy="566.2" r="10.45"/>
<circle cx="2082.2" cy="584.5" r="10.45"/>
<circle cx="2092.2" cy="592.5" r="10.45"/>
<circle cx="2093.0" cy="546.2" r="10.45"/>
<circle cx="2123.0" cy="533.8" r="10.45"/>
<circle cx="2138.5" cy="515.0" r="10.45"/>
<circle cx="2147.2" cy="527.5" r="10.45"/>
<circle cx="2143.5" cy="548.8" r="10.45"/>
<circle cx="2145.5" cy="485.0" r="10.45"/>
<circle cx="2131.0" cy="477.5" r="10.45"/>
<circle cx="2097.2" cy="522.5" r="10.45"/>
<circle cx="2101.0" cy="515.0" r="10.45"/>
<circle cx="2053.5" cy="517.5" r="10.45"/>
<circle cx="2034.8" cy="530.0" r="10.45"/>
<circle cx="1997.2" cy="546.2" r="10.45"/>
<circle cx="1976.0" cy="547.5" r="10.45"/>
<circle cx="1959.8" cy="540.0" r="10.45"/>
<circle cx="1951.0" cy="531.2" r="10.45"/>
<circle cx="1928.5" cy="533.8" r="10.45"/>
<circle cx="1966.0" cy="512.5" r="10.45"/>
<circle cx="1948.5" cy="507.5" r="10.45"/>
<circle cx="1949.8" cy="563.8" r="10.45"/>
<circle cx="1958.5" cy="576.2" r="10.45"/>
<circle cx="1943.5" cy="577.5" r="10.45"/>
<circle cx="1914.8" cy="578.8" r="10.45"/>
<circle cx="1900.5" cy="583.0" r="10.45"/>
<circle cx="1912.2" cy="560.0" r="10.45"/>
<circle cx="1879.8" cy="557.5" r="10.45"/>
<circle cx="1868.5" cy="550.0" r="10.45"/>
<circle cx="1856.0" cy="583.2" r="10.45"/>
<circle cx="1833.5" cy="593.8" r="10.45"/>
<circle cx="1816.0" cy="595.0" r="10.45"/>
<circle cx="1811.0" cy="581.2" r="10.45"/>
<circle cx="1811.0" cy="567.5" r="10.45"/>
<circle cx="1831.0" cy="552.5" r="10.45"/>
<circle cx="1842.2" cy="550.0" r="10.45"/>
<circle cx="1791.0" cy="537.5" r="10.45"/>
<circle cx="1774.8" cy="552.5" r="10.45"/>
<circle cx="1761.0" cy="570.0" r="10.45"/>
<circle cx="1756.0" cy="577.5" r="10.45"/>
<circle cx="1753.5" cy="597.5" r="10.45"/>
<circle cx="1759.8" cy="605.0" r="10.45"/>
<circle cx="1726.0" cy="602.5" r="10.45"/>
<circle cx="1706.0" cy="595.0" r="10.45"/>
<circle cx="1701.0" cy="615.0" r="10.45"/>
<circle cx="1709.8" cy="572.5" r="10.45"/>
<circle cx="1738.5" cy="540.0" r="10.45"/>
<circle cx="2001.0" cy="522.5" r="10.45"/>
<circle cx="2013.5" cy="522.5" r="10.45"/>
<circle cx="2071.0" cy="515.0" r="10.45"/>
<circle cx="2146.0" cy="445.0" r="10.45"/>
<circle cx="2141.0" cy="467.5" r="10.45"/>
</g>
<g clip-path="url(#clipTR)"><line x1="1253.6" y1="475.3" x2="2138.2" y2="435.3" stroke="#000" stroke-width="6.0" stroke-dasharray="22.27 9.6"/></g>
<rect x="1253.6" y="10.4" width="916.2" height="892.3" fill="none" stroke="#000" stroke-width="2.44" stroke-linejoin="miter"/>
<path d="M1242.9 902.70H1253.6M1242.9 753.98H1253.6M1242.9 605.27H1253.6M1242.9 456.55H1253.6M1242.9 307.83H1253.6M1242.9 159.12H1253.6M1242.9 10.40H1253.6M1306.26 902.7V913.4M1411.57 902.7V913.4M1516.88 902.7V913.4M1622.19 902.7V913.4M1727.50 902.7V913.4M1832.81 902.7V913.4M1938.12 902.7V913.4M2043.43 902.7V913.4M2148.74 902.7V913.4" stroke="#000" stroke-width="2.44" fill="none"/>
<g font-family="DejaVu Sans, sans-serif" font-size="30.56" fill="#000">
<text transform="translate(1232.2,914.6) scale(1,1.065)" text-anchor="end">−1.5</text>
<text transform="translate(1232.2,765.9) scale(1,1.065)" text-anchor="end">−1.0</text>
<text transform="translate(1232.2,617.2) scale(1,1.065)" text-anchor="end">−0.5</text>
<text transform="translate(1232.2,468.4) scale(1,1.065)" text-anchor="end">0.0</text>
<text transform="translate(1232.2,319.7) scale(1,1.065)" text-anchor="end">0.5</text>
<text transform="translate(1232.2,171.0) scale(1,1.065)" text-anchor="end">1.0</text>
<text transform="translate(1232.2,22.3) scale(1,1.065)" text-anchor="end">1.5</text>
<text transform="translate(1306.8,947.9) scale(1,1.065)" text-anchor="middle">−80</text>
<text transform="translate(1412.1,947.9) scale(1,1.065)" text-anchor="middle">−70</text>
<text transform="translate(1517.4,947.9) scale(1,1.065)" text-anchor="middle">−60</text>
<text transform="translate(1622.7,947.9) scale(1,1.065)" text-anchor="middle">−50</text>
<text transform="translate(1728.0,947.9) scale(1,1.065)" text-anchor="middle">−40</text>
<text transform="translate(1833.3,947.9) scale(1,1.065)" text-anchor="middle">−30</text>
<text transform="translate(1938.6,947.9) scale(1,1.065)" text-anchor="middle">−20</text>
<text transform="translate(2043.9,947.9) scale(1,1.065)" text-anchor="middle">−10</text>
<text transform="translate(2149.2,947.9) scale(1,1.065)" text-anchor="middle">0</text>
</g>
<text x="1711.7" y="999.5" text-anchor="middle" font-family="DejaVu Sans, sans-serif" font-size="45.35">Declination (deg)</text>
<text transform="translate(1133.9,457.8) rotate(-90)" text-anchor="middle" font-family="DejaVu Sans, sans-serif" font-size="45.35">Δ [Fe/H]_GALAH</text>
<clipPath id="clipBL"><rect x="154.6" y="1081.3" width="915.9" height="892.4"/></clipPath>
<g clip-path="url(#clipBL)" fill="#1f77b4">
<polygon points="257.0,1431.0 282.0,1425.3 307.0,1433.6 325.0,1409.5 357.0,1414.2 386.0,1412.8 407.0,1406.9 443.0,1429.8 471.0,1410.2 504.0,1422.0 529.0,1434.3 557.0,1421.8 593.0,1437.7 611.0,1449.6 646.0,1440.4 675.0,1449.0 700.0,1457.3 729.0,1455.8 743.0,1474.5 754.0,1496.1 757.0,1510.3 757.0,1525.3 750.0,1552.9 743.0,1570.6 750.0,1588.9 745.0,1598.7 720.0,1617.4 690.0,1598.3 662.5,1604.3 637.5,1613.0 612.5,1621.7 590.0,1620.5 580.0,1642.5 562.5,1649.1 545.0,1630.6 525.0,1642.1 500.0,1640.8 475.0,1634.5 450.0,1623.1 440.0,1637.6 425.0,1641.8 405.0,1635.8 390.0,1620.0 375.0,1629.2 350.0,1637.9 330.0,1641.8 305.0,1635.5 282.5,1634.3 265.0,1623.4 257.5,1603.0 250.0,1582.6 247.5,1557.5 250.0,1512.6 252.0,1472.7 255.0,1442.9"/>
<circle cx="261.6" cy="1433.0" r="10.45"/>
<circle cx="286.4" cy="1427.6" r="10.45"/>
<circle cx="298.9" cy="1431.8" r="10.45"/>
<circle cx="311.4" cy="1436.0" r="10.45"/>
<circle cx="320.2" cy="1424.3" r="10.45"/>
<circle cx="329.0" cy="1412.6" r="10.45"/>
<circle cx="344.9" cy="1415.0" r="10.45"/>
<circle cx="360.7" cy="1417.6" r="10.45"/>
<circle cx="375.0" cy="1417.0" r="10.45"/>
<circle cx="389.3" cy="1416.5" r="10.45"/>
<circle cx="409.8" cy="1411.0" r="10.45"/>
<circle cx="421.7" cy="1418.7" r="10.45"/>
<circle cx="433.5" cy="1426.5" r="10.45"/>
<circle cx="445.2" cy="1434.2" r="10.45"/>
<circle cx="458.6" cy="1424.7" r="10.45"/>
<circle cx="472.0" cy="1415.1" r="10.45"/>
<circle cx="487.9" cy="1421.1" r="10.45"/>
<circle cx="503.8" cy="1427.0" r="10.45"/>
<circle cx="515.7" cy="1433.1" r="10.45"/>
<circle cx="527.6" cy="1439.1" r="10.45"/>
<circle cx="541.1" cy="1432.7" r="10.45"/>
<circle cx="554.8" cy="1426.2" r="10.45"/>
<circle cx="566.3" cy="1431.3" r="10.45"/>
<circle cx="578.0" cy="1436.3" r="10.45"/>
<circle cx="589.6" cy="1441.3" r="10.45"/>
<circle cx="607.1" cy="1452.7" r="10.45"/>
<circle cx="624.5" cy="1448.0" r="10.45"/>
<circle cx="641.9" cy="1443.2" r="10.45"/>
<circle cx="656.2" cy="1447.2" r="10.45"/>
<circle cx="670.6" cy="1451.3" r="10.45"/>
<circle cx="683.0" cy="1455.2" r="10.45"/>
<circle cx="695.4" cy="1459.2" r="10.45"/>
<circle cx="709.8" cy="1458.3" r="10.45"/>
<circle cx="724.3" cy="1457.5" r="10.45"/>
<circle cx="738.2" cy="1475.8" r="10.45"/>
<circle cx="749.1" cy="1497.0" r="10.45"/>
<circle cx="752.0" cy="1510.9" r="10.45"/>
<circle cx="752.0" cy="1525.6" r="10.45"/>
<circle cx="748.5" cy="1539.1" r="10.45"/>
<circle cx="745.0" cy="1552.7" r="10.45"/>
<circle cx="738.0" cy="1569.9" r="10.45"/>
<circle cx="745.1" cy="1588.0" r="10.45"/>
<circle cx="740.1" cy="1597.5" r="10.45"/>
<circle cx="727.7" cy="1606.6" r="10.45"/>
<circle cx="715.3" cy="1615.7" r="10.45"/>
<circle cx="700.2" cy="1606.3" r="10.45"/>
<circle cx="685.2" cy="1596.8" r="10.45"/>
<circle cx="671.5" cy="1599.7" r="10.45"/>
<circle cx="657.8" cy="1602.5" r="10.45"/>
<circle cx="645.4" cy="1606.6" r="10.45"/>
<circle cx="633.1" cy="1610.7" r="10.45"/>
<circle cx="620.7" cy="1614.8" r="10.45"/>
<circle cx="608.4" cy="1618.8" r="10.45"/>
<circle cx="586.2" cy="1617.2" r="10.45"/>
<circle cx="576.9" cy="1638.6" r="10.45"/>
<circle cx="560.0" cy="1644.8" r="10.45"/>
<circle cx="542.7" cy="1626.2" r="10.45"/>
<circle cx="523.7" cy="1637.3" r="10.45"/>
<circle cx="499.9" cy="1635.8" r="10.45"/>
<circle cx="476.2" cy="1629.6" r="10.45"/>
<circle cx="464.4" cy="1624.2" r="10.45"/>
<circle cx="452.5" cy="1618.8" r="10.45"/>
<circle cx="442.6" cy="1633.3" r="10.45"/>
<circle cx="427.9" cy="1637.8" r="10.45"/>
<circle cx="408.5" cy="1632.2" r="10.45"/>
<circle cx="394.0" cy="1617.0" r="10.45"/>
<circle cx="379.1" cy="1626.3" r="10.45"/>
<circle cx="366.6" cy="1630.7" r="10.45"/>
<circle cx="354.2" cy="1635.1" r="10.45"/>
<circle cx="334.3" cy="1639.3" r="10.45"/>
<circle cx="309.5" cy="1633.3" r="10.45"/>
<circle cx="287.1" cy="1632.3" r="10.45"/>
<circle cx="269.7" cy="1621.7" r="10.45"/>
<circle cx="262.3" cy="1601.8" r="10.45"/>
<circle cx="254.9" cy="1581.8" r="10.45"/>
<circle cx="252.5" cy="1557.1" r="10.45"/>
<circle cx="253.3" cy="1542.5" r="10.45"/>
<circle cx="254.2" cy="1527.8" r="10.45"/>
<circle cx="255.0" cy="1513.2" r="10.45"/>
<circle cx="255.6" cy="1500.1" r="10.45"/>
<circle cx="256.2" cy="1487.1" r="10.45"/>
<circle cx="256.8" cy="1474.0" r="10.45"/>
<circle cx="258.2" cy="1459.4" r="10.45"/>
<circle cx="259.6" cy="1444.7" r="10.45"/>
<circle cx="347.0" cy="1187.0" r="10.45"/>
<circle cx="367.0" cy="1275.0" r="10.45"/>
<circle cx="340.8" cy="1307.5" r="10.45"/>
<circle cx="408.2" cy="1310.8" r="10.45"/>
<circle cx="447.5" cy="1302.0" r="10.45"/>
<circle cx="485.0" cy="1302.0" r="10.45"/>
<circle cx="510.8" cy="1308.0" r="10.45"/>
<circle cx="513.0" cy="1328.0" r="10.45"/>
<circle cx="493.2" cy="1342.5" r="10.45"/>
<circle cx="526.2" cy="1353.8" r="10.45"/>
<circle cx="508.8" cy="1348.8" r="10.45"/>
<circle cx="506.2" cy="1372.5" r="10.45"/>
<circle cx="490.0" cy="1377.5" r="10.45"/>
<circle cx="532.5" cy="1380.0" r="10.45"/>
<circle cx="535.0" cy="1395.0" r="10.45"/>
<circle cx="505.0" cy="1392.5" r="10.45"/>
<circle cx="520.0" cy="1400.0" r="10.45"/>
<circle cx="532.5" cy="1407.5" r="10.45"/>
<circle cx="476.2" cy="1405.0" r="10.45"/>
<circle cx="440.5" cy="1333.8" r="10.45"/>
<circle cx="443.8" cy="1345.0" r="10.45"/>
<circle cx="411.2" cy="1358.8" r="10.45"/>
<circle cx="412.0" cy="1366.2" r="10.45"/>
<circle cx="390.0" cy="1367.5" r="10.45"/>
<circle cx="386.2" cy="1380.0" r="10.45"/>
<circle cx="373.8" cy="1352.5" r="10.45"/>
<circle cx="368.8" cy="1387.5" r="10.45"/>
<circle cx="360.0" cy="1370.0" r="10.45"/>
<circle cx="351.2" cy="1372.5" r="10.45"/>
<circle cx="340.0" cy="1383.8" r="10.45"/>
<circle cx="321.2" cy="1357.0" r="10.45"/>
<circle cx="269.2" cy="1341.2" r="10.45"/>
<circle cx="288.8" cy="1361.2" r="10.45"/>
<circle cx="297.5" cy="1363.8" r="10.45"/>
<circle cx="298.8" cy="1373.8" r="10.45"/>
<circle cx="273.8" cy="1370.0" r="10.45"/>
<circle cx="268.8" cy="1375.0" r="10.45"/>
<circle cx="261.2" cy="1387.0" r="10.45"/>
<circle cx="297.5" cy="1385.0" r="10.45"/>
<circle cx="282.5" cy="1396.2" r="10.45"/>
<circle cx="447.5" cy="1377.5" r="10.45"/>
<circle cx="448.8" cy="1395.0" r="10.45"/>
<circle cx="428.8" cy="1385.0" r="10.45"/>
<circle cx="407.5" cy="1390.0" r="10.45"/>
<circle cx="422.5" cy="1395.0" r="10.45"/>
<circle cx="577.5" cy="1330.0" r="10.45"/>
<circle cx="582.5" cy="1341.2" r="10.45"/>
<circle cx="567.5" cy="1342.5" r="10.45"/>
<circle cx="566.2" cy="1353.8" r="10.45"/>
<circle cx="558.8" cy="1367.5" r="10.45"/>
<circle cx="558.8" cy="1377.5" r="10.45"/>
<circle cx="571.2" cy="1397.5" r="10.45"/>
<circle cx="557.5" cy="1405.0" r="10.45"/>
<circle cx="631.2" cy="1348.0" r="10.45"/>
<circle cx="641.2" cy="1370.0" r="10.45"/>
<circle cx="670.0" cy="1377.0" r="10.45"/>
<circle cx="608.8" cy="1381.2" r="10.45"/>
<circle cx="600.0" cy="1397.5" r="10.45"/>
<circle cx="622.5" cy="1407.5" r="10.45"/>
<circle cx="637.5" cy="1395.0" r="10.45"/>
<circle cx="645.0" cy="1390.0" r="10.45"/>
<circle cx="660.0" cy="1408.8" r="10.45"/>
<circle cx="663.8" cy="1427.5" r="10.45"/>
<circle cx="650.0" cy="1302.0" r="10.45"/>
<circle cx="647.5" cy="1324.5" r="10.45"/>
<circle cx="683.8" cy="1327.0" r="10.45"/>
<circle cx="295.0" cy="1411.2" r="10.45"/>
<circle cx="305.0" cy="1405.0" r="10.45"/>
<circle cx="320.0" cy="1400.0" r="10.45"/>
<circle cx="340.0" cy="1402.5" r="10.45"/>
<circle cx="375.0" cy="1405.0" r="10.45"/>
<circle cx="392.5" cy="1405.0" r="10.45"/>
<circle cx="405.0" cy="1412.5" r="10.45"/>
<circle cx="267.5" cy="1427.5" r="10.45"/>
<circle cx="285.0" cy="1431.2" r="10.45"/>
<circle cx="295.0" cy="1445.0" r="10.45"/>
<circle cx="267.5" cy="1442.5" r="10.45"/>
<circle cx="266.2" cy="1455.0" r="10.45"/>
<circle cx="450.0" cy="1417.5" r="10.45"/>
<circle cx="475.0" cy="1412.5" r="10.45"/>
<circle cx="575.0" cy="1420.0" r="10.45"/>
<circle cx="610.0" cy="1430.0" r="10.45"/>
<circle cx="637.5" cy="1427.5" r="10.45"/>
<circle cx="713.8" cy="1266.8" r="10.45"/>
<circle cx="717.5" cy="1290.0" r="10.45"/>
<circle cx="758.2" cy="1321.8" r="10.45"/>
<circle cx="785.8" cy="1365.8" r="10.45"/>
<circle cx="807.0" cy="1359.5" r="10.45"/>
<circle cx="696.2" cy="1355.8" r="10.45"/>
<circle cx="718.8" cy="1387.5" r="10.45"/>
<circle cx="759.5" cy="1377.5" r="10.45"/>
<circle cx="755.8" cy="1397.0" r="10.45"/>
<circle cx="708.0" cy="1418.8" r="10.45"/>
<circle cx="741.8" cy="1426.2" r="10.45"/>
<circle cx="743.8" cy="1437.0" r="10.45"/>
<circle cx="772.0" cy="1443.8" r="10.45"/>
<circle cx="773.8" cy="1461.2" r="10.45"/>
<circle cx="768.8" cy="1473.8" r="10.45"/>
<circle cx="745.0" cy="1468.8" r="10.45"/>
<circle cx="752.5" cy="1482.5" r="10.45"/>
<circle cx="782.0" cy="1496.2" r="10.45"/>
<circle cx="803.2" cy="1501.2" r="10.45"/>
<circle cx="831.2" cy="1512.5" r="10.45"/>
<circle cx="771.2" cy="1512.5" r="10.45"/>
<circle cx="776.2" cy="1522.5" r="10.45"/>
<circle cx="786.2" cy="1521.2" r="10.45"/>
<circle cx="806.2" cy="1522.5" r="10.45"/>
<circle cx="800.0" cy="1536.2" r="10.45"/>
<circle cx="800.5" cy="1550.0" r="10.45"/>
<circle cx="825.0" cy="1542.5" r="10.45"/>
<circle cx="932.5" cy="1452.0" r="10.45"/>
<circle cx="955.0" cy="1458.8" r="10.45"/>
<circle cx="994.2" cy="1495.8" r="10.45"/>
<circle cx="930.0" cy="1530.0" r="10.45"/>
<circle cx="948.8" cy="1545.0" r="10.45"/>
<circle cx="962.5" cy="1548.8" r="10.45"/>
<circle cx="977.5" cy="1536.2" r="10.45"/>
<circle cx="987.0" cy="1559.2" r="10.45"/>
<circle cx="937.5" cy="1560.0" r="10.45"/>
<circle cx="946.2" cy="1567.5" r="10.45"/>
<circle cx="883.8" cy="1583.8" r="10.45"/>
<circle cx="794.5" cy="1577.5" r="10.45"/>
<circle cx="760.0" cy="1578.8" r="10.45"/>
<circle cx="745.0" cy="1567.5" r="10.45"/>
<circle cx="750.0" cy="1550.0" r="10.45"/>
<circle cx="752.5" cy="1532.5" r="10.45"/>
<circle cx="730.0" cy="1452.5" r="10.45"/>
<circle cx="715.0" cy="1447.5" r="10.45"/>
<circle cx="702.5" cy="1447.5" r="10.45"/>
<circle cx="685.0" cy="1452.5" r="10.45"/>
<circle cx="652.5" cy="1427.5" r="10.45"/>
<circle cx="665.0" cy="1427.5" r="10.45"/>
<circle cx="355.0" cy="1832.0" r="10.45"/>
<circle cx="443.8" cy="1842.5" r="10.45"/>
<circle cx="473.8" cy="1820.8" r="10.45"/>
<circle cx="504.2" cy="1809.5" r="10.45"/>
<circle cx="578.0" cy="1836.8" r="10.45"/>
<circle cx="575.0" cy="1872.0" r="10.45"/>
<circle cx="588.8" cy="1904.2" r="10.45"/>
<circle cx="484.2" cy="1786.2" r="10.45"/>
<circle cx="526.8" cy="1783.8" r="10.45"/>
<circle cx="531.2" cy="1775.0" r="10.45"/>
<circle cx="575.0" cy="1743.2" r="10.45"/>
<circle cx="573.2" cy="1763.2" r="10.45"/>
<circle cx="594.2" cy="1775.0" r="10.45"/>
<circle cx="607.5" cy="1766.2" r="10.45"/>
<circle cx="633.0" cy="1751.2" r="10.45"/>
<circle cx="686.2" cy="1738.0" r="10.45"/>
<circle cx="487.5" cy="1749.5" r="10.45"/>
<circle cx="486.2" cy="1730.8" r="10.45"/>
<circle cx="490.5" cy="1698.2" r="10.45"/>
<circle cx="516.2" cy="1691.2" r="10.45"/>
<circle cx="515.5" cy="1719.5" r="10.45"/>
<circle cx="536.2" cy="1715.0" r="10.45"/>
<circle cx="532.0" cy="1731.2" r="10.45"/>
<circle cx="557.5" cy="1718.8" r="10.45"/>
<circle cx="320.0" cy="1792.0" r="10.45"/>
<circle cx="330.0" cy="1781.2" r="10.45"/>
<circle cx="341.2" cy="1790.0" r="10.45"/>
<circle cx="350.0" cy="1772.0" r="10.45"/>
<circle cx="365.0" cy="1787.5" r="10.45"/>
<circle cx="375.0" cy="1782.5" r="10.45"/>
<circle cx="315.0" cy="1752.5" r="10.45"/>
<circle cx="322.5" cy="1753.0" r="10.45"/>
<circle cx="272.5" cy="1712.0" r="10.45"/>
<circle cx="272.5" cy="1722.5" r="10.45"/>
<circle cx="302.5" cy="1715.5" r="10.45"/>
<circle cx="311.2" cy="1725.0" r="10.45"/>
<circle cx="322.5" cy="1708.8" r="10.45"/>
<circle cx="335.0" cy="1703.8" r="10.45"/>
<circle cx="345.0" cy="1725.0" r="10.45"/>
<circle cx="357.0" cy="1723.0" r="10.45"/>
<circle cx="417.5" cy="1717.0" r="10.45"/>
<circle cx="423.8" cy="1721.2" r="10.45"/>
<circle cx="365.0" cy="1698.8" r="10.45"/>
<circle cx="437.5" cy="1690.5" r="10.45"/>
<circle cx="418.8" cy="1682.5" r="10.45"/>
<circle cx="395.0" cy="1672.5" r="10.45"/>
<circle cx="377.5" cy="1675.0" r="10.45"/>
<circle cx="362.5" cy="1663.8" r="10.45"/>
<circle cx="328.8" cy="1667.5" r="10.45"/>
<circle cx="342.5" cy="1663.8" r="10.45"/>
<circle cx="287.5" cy="1668.0" r="10.45"/>
<circle cx="285.0" cy="1692.5" r="10.45"/>
<circle cx="270.0" cy="1686.2" r="10.45"/>
<circle cx="257.5" cy="1674.5" r="10.45"/>
<circle cx="260.0" cy="1647.0" r="10.45"/>
<circle cx="296.2" cy="1645.5" r="10.45"/>
<circle cx="312.5" cy="1642.5" r="10.45"/>
<circle cx="325.0" cy="1645.0" r="10.45"/>
<circle cx="347.5" cy="1645.0" r="10.45"/>
<circle cx="427.5" cy="1659.5" r="10.45"/>
<circle cx="461.2" cy="1648.2" r="10.45"/>
<circle cx="477.5" cy="1668.8" r="10.45"/>
<circle cx="483.8" cy="1672.5" r="10.45"/>
<circle cx="538.8" cy="1682.5" r="10.45"/>
<circle cx="572.5" cy="1688.8" r="10.45"/>
<circle cx="582.5" cy="1673.0" r="10.45"/>
<circle cx="565.0" cy="1672.0" r="10.45"/>
<circle cx="636.2" cy="1648.8" r="10.45"/>
<circle cx="636.2" cy="1677.0" r="10.45"/>
<circle cx="647.5" cy="1690.5" r="10.45"/>
<circle cx="665.0" cy="1673.8" r="10.45"/>
<circle cx="677.5" cy="1673.8" r="10.45"/>
<circle cx="656.2" cy="1636.2" r="10.45"/>
<circle cx="677.5" cy="1636.2" r="10.45"/>
<circle cx="665.0" cy="1615.0" r="10.45"/>
<circle cx="686.2" cy="1604.5" r="10.45"/>
<circle cx="620.0" cy="1632.5" r="10.45"/>
<circle cx="592.5" cy="1631.2" r="10.45"/>
<circle cx="635.0" cy="1620.0" r="10.45"/>
<circle cx="507.5" cy="1655.0" r="10.45"/>
<circle cx="525.0" cy="1662.5" r="10.45"/>
<circle cx="465.0" cy="1625.0" r="10.45"/>
<circle cx="407.5" cy="1642.5" r="10.45"/>
<circle cx="948.8" cy="1619.5" r="10.45"/>
<circle cx="941.2" cy="1643.0" r="10.45"/>
<circle cx="977.5" cy="1608.8" r="10.45"/>
<circle cx="987.5" cy="1609.5" r="10.45"/>
<circle cx="812.5" cy="1612.0" r="10.45"/>
<circle cx="777.0" cy="1608.2" r="10.45"/>
<circle cx="785.0" cy="1595.0" r="10.45"/>
<circle cx="745.0" cy="1635.0" r="10.45"/>
<circle cx="763.0" cy="1643.8" r="10.45"/>
<circle cx="798.0" cy="1641.2" r="10.45"/>
<circle cx="825.8" cy="1655.0" r="10.45"/>
<circle cx="812.0" cy="1670.8" r="10.45"/>
<circle cx="732.5" cy="1680.8" r="10.45"/>
<circle cx="697.5" cy="1653.0" r="10.45"/>
<circle cx="706.2" cy="1632.5" r="10.45"/>
<circle cx="702.5" cy="1617.5" r="10.45"/>
<circle cx="720.0" cy="1610.0" r="10.45"/>
<circle cx="730.0" cy="1612.5" r="10.45"/>
<circle cx="745.0" cy="1596.2" r="10.45"/>
<circle cx="750.0" cy="1596.2" r="10.45"/>
</g>
<rect x="154.6" y="1081.3" width="915.9" height="892.4" fill="none" stroke="#000" stroke-width="2.44" stroke-linejoin="miter"/>
<path d="M143.9 1973.70H154.6M143.9 1824.97H154.6M143.9 1676.23H154.6M143.9 1527.50H154.6M143.9 1378.77H154.6M143.9 1230.03H154.6M143.9 1081.30H154.6M154.60 1973.7V1984.4M256.37 1973.7V1984.4M358.13 1973.7V1984.4M459.90 1973.7V1984.4M561.67 1973.7V1984.4M663.43 1973.7V1984.4M765.20 1973.7V1984.4M866.97 1973.7V1984.4M968.73 1973.7V1984.4M1070.50 1973.7V1984.4" stroke="#000" stroke-width="2.44" fill="none"/>
<g font-family="DejaVu Sans, sans-serif" font-size="30.56" fill="#000">
<text transform="translate(133.2,1985.6) scale(1,1.065)" text-anchor="end">−1.5</text>
<text transform="translate(133.2,1836.9) scale(1,1.065)" text-anchor="end">−1.0</text>
<text transform="translate(133.2,1688.1) scale(1,1.065)" text-anchor="end">−0.5</text>
<text transform="translate(133.2,1539.4) scale(1,1.065)" text-anchor="end">0.0</text>
<text transform="translate(133.2,1390.7) scale(1,1.065)" text-anchor="end">0.5</text>
<text transform="translate(133.2,1241.9) scale(1,1.065)" text-anchor="end">1.0</text>
<text transform="translate(133.2,1093.2) scale(1,1.065)" text-anchor="end">1.5</text>
<text transform="translate(155.1,2018.9) scale(1,1.065)" text-anchor="middle">0</text>
<text transform="translate(256.9,2018.9) scale(1,1.065)" text-anchor="middle">10</text>
<text transform="translate(358.6,2018.9) scale(1,1.065)" text-anchor="middle">20</text>
<text transform="translate(460.4,2018.9) scale(1,1.065)" text-anchor="middle">30</text>
<text transform="translate(562.2,2018.9) scale(1,1.065)" text-anchor="middle">40</text>
<text transform="translate(663.9,2018.9) scale(1,1.065)" text-anchor="middle">50</text>
<text transform="translate(765.7,2018.9) scale(1,1.065)" text-anchor="middle">60</text>
<text transform="translate(867.5,2018.9) scale(1,1.065)" text-anchor="middle">70</text>
<text transform="translate(969.2,2018.9) scale(1,1.065)" text-anchor="middle">80</text>
<text transform="translate(1071.0,2018.9) scale(1,1.065)" text-anchor="middle">90</text>
</g>
<text x="612.5" y="2070.5" text-anchor="middle" font-family="DejaVu Sans, sans-serif" font-size="45.35">|b| (deg)</text>
<text transform="translate(34.9,1528.7) rotate(-90)" text-anchor="middle" font-family="DejaVu Sans, sans-serif" font-size="45.35">Δ [Fe/H]_GALAH</text>
<clipPath id="clipBR"><rect x="1253.6" y="1081.3" width="916.2" height="892.4"/></clipPath>
<g clip-path="url(#clipBR)" fill="#1f77b4">
<polygon points="1297.5,1466.7 1305.0,1439.5 1322.5,1430.3 1352.5,1424.2 1370.0,1415.0 1390.0,1418.4 1415.0,1427.0 1430.0,1435.2 1465.0,1441.8 1490.0,1442.9 1515.0,1434.0 1540.0,1427.6 1565.0,1433.8 1590.0,1447.4 1605.0,1448.1 1615.0,1443.5 1640.0,1439.7 1665.0,1438.3 1690.0,1431.9 1730.0,1431.2 1756.0,1449.9 1781.0,1456.0 1806.0,1462.2 1826.0,1463.1 1843.5,1463.9 1856.0,1469.4 1881.0,1470.6 1906.0,1456.7 1931.0,1447.8 1943.5,1445.9 1968.5,1444.5 1993.5,1455.6 2018.5,1461.8 2043.5,1457.9 2068.5,1456.5 2093.5,1460.2 2118.5,1458.8 2138.5,1467.2 2146.0,1480.0 2151.0,1532.8 2151.0,1587.8 2126.0,1591.6 2106.0,1612.7 2081.0,1611.6 2056.0,1605.5 2031.0,1609.4 2006.0,1608.2 1981.0,1610.1 1956.0,1624.0 1931.0,1617.8 1918.0,1617.2 1906.0,1641.7 1881.0,1635.6 1856.0,1634.4 1831.0,1633.3 1816.0,1652.6 1801.0,1662.0 1786.0,1616.3 1771.0,1615.6 1756.0,1649.9 1746.0,1629.5 1731.0,1658.8 1706.0,1669.7 1681.0,1668.5 1665.0,1635.8 1640.0,1629.7 1615.0,1638.6 1590.0,1632.4 1565.0,1623.3 1540.0,1627.2 1515.0,1622.0 1490.0,1617.9 1465.0,1613.8 1440.0,1618.6 1415.0,1614.5 1390.0,1603.4 1365.0,1612.3 1340.0,1616.1 1315.0,1605.0 1297.5,1589.2 1297.5,1544.2 1297.5,1494.2"/>
<circle cx="1302.4" cy="1467.5" r="10.45"/>
<circle cx="1306.2" cy="1454.1" r="10.45"/>
<circle cx="1309.9" cy="1440.7" r="10.45"/>
<circle cx="1327.3" cy="1431.6" r="10.45"/>
<circle cx="1342.3" cy="1428.6" r="10.45"/>
<circle cx="1357.3" cy="1425.6" r="10.45"/>
<circle cx="1374.7" cy="1416.6" r="10.45"/>
<circle cx="1394.7" cy="1420.0" r="10.45"/>
<circle cx="1407.2" cy="1424.4" r="10.45"/>
<circle cx="1419.7" cy="1428.7" r="10.45"/>
<circle cx="1434.7" cy="1436.8" r="10.45"/>
<circle cx="1452.2" cy="1440.1" r="10.45"/>
<circle cx="1469.7" cy="1443.5" r="10.45"/>
<circle cx="1494.6" cy="1444.8" r="10.45"/>
<circle cx="1507.1" cy="1440.5" r="10.45"/>
<circle cx="1519.5" cy="1436.2" r="10.45"/>
<circle cx="1544.3" cy="1430.2" r="10.45"/>
<circle cx="1569.2" cy="1436.5" r="10.45"/>
<circle cx="1581.7" cy="1443.4" r="10.45"/>
<circle cx="1594.1" cy="1450.2" r="10.45"/>
<circle cx="1609.0" cy="1451.1" r="10.45"/>
<circle cx="1618.8" cy="1446.8" r="10.45"/>
<circle cx="1643.2" cy="1443.5" r="10.45"/>
<circle cx="1667.5" cy="1442.6" r="10.45"/>
<circle cx="1691.4" cy="1436.7" r="10.45"/>
<circle cx="1704.2" cy="1436.6" r="10.45"/>
<circle cx="1716.9" cy="1436.5" r="10.45"/>
<circle cx="1729.6" cy="1436.2" r="10.45"/>
<circle cx="1741.9" cy="1445.4" r="10.45"/>
<circle cx="1754.1" cy="1454.5" r="10.45"/>
<circle cx="1778.0" cy="1460.0" r="10.45"/>
<circle cx="1802.2" cy="1465.5" r="10.45"/>
<circle cx="1821.9" cy="1465.9" r="10.45"/>
<circle cx="1839.2" cy="1466.4" r="10.45"/>
<circle cx="1851.5" cy="1471.6" r="10.45"/>
<circle cx="1876.4" cy="1472.5" r="10.45"/>
<circle cx="1888.9" cy="1465.6" r="10.45"/>
<circle cx="1901.4" cy="1458.7" r="10.45"/>
<circle cx="1913.9" cy="1454.2" r="10.45"/>
<circle cx="1926.4" cy="1449.8" r="10.45"/>
<circle cx="1938.9" cy="1447.8" r="10.45"/>
<circle cx="1963.8" cy="1446.2" r="10.45"/>
<circle cx="1976.3" cy="1451.6" r="10.45"/>
<circle cx="1988.7" cy="1457.1" r="10.45"/>
<circle cx="2013.6" cy="1463.0" r="10.45"/>
<circle cx="2038.6" cy="1459.1" r="10.45"/>
<circle cx="2063.6" cy="1457.6" r="10.45"/>
<circle cx="2088.6" cy="1461.2" r="10.45"/>
<circle cx="2113.6" cy="1459.7" r="10.45"/>
<circle cx="2133.6" cy="1468.0" r="10.45"/>
<circle cx="2141.0" cy="1480.7" r="10.45"/>
<circle cx="2142.3" cy="1493.7" r="10.45"/>
<circle cx="2143.5" cy="1506.7" r="10.45"/>
<circle cx="2144.8" cy="1519.8" r="10.45"/>
<circle cx="2146.0" cy="1532.8" r="10.45"/>
<circle cx="2146.0" cy="1546.4" r="10.45"/>
<circle cx="2146.0" cy="1560.0" r="10.45"/>
<circle cx="2146.0" cy="1573.6" r="10.45"/>
<circle cx="2146.0" cy="1587.2" r="10.45"/>
<circle cx="2121.0" cy="1591.0" r="10.45"/>
<circle cx="2111.1" cy="1601.4" r="10.45"/>
<circle cx="2101.1" cy="1611.8" r="10.45"/>
<circle cx="2076.1" cy="1610.6" r="10.45"/>
<circle cx="2051.1" cy="1604.5" r="10.45"/>
<circle cx="2026.1" cy="1608.2" r="10.45"/>
<circle cx="2001.2" cy="1607.0" r="10.45"/>
<circle cx="1976.2" cy="1608.7" r="10.45"/>
<circle cx="1963.7" cy="1615.5" r="10.45"/>
<circle cx="1951.3" cy="1622.2" r="10.45"/>
<circle cx="1926.3" cy="1616.0" r="10.45"/>
<circle cx="1913.4" cy="1615.3" r="10.45"/>
<circle cx="1907.5" cy="1627.3" r="10.45"/>
<circle cx="1901.7" cy="1639.2" r="10.45"/>
<circle cx="1876.8" cy="1632.9" r="10.45"/>
<circle cx="1852.0" cy="1631.5" r="10.45"/>
<circle cx="1827.2" cy="1630.0" r="10.45"/>
<circle cx="1812.8" cy="1648.8" r="10.45"/>
<circle cx="1798.3" cy="1657.7" r="10.45"/>
<circle cx="1793.2" cy="1642.6" r="10.45"/>
<circle cx="1788.0" cy="1627.5" r="10.45"/>
<circle cx="1782.8" cy="1612.4" r="10.45"/>
<circle cx="1768.3" cy="1611.4" r="10.45"/>
<circle cx="1761.5" cy="1628.2" r="10.45"/>
<circle cx="1754.5" cy="1645.2" r="10.45"/>
<circle cx="1744.7" cy="1624.6" r="10.45"/>
<circle cx="1737.7" cy="1639.2" r="10.45"/>
<circle cx="1730.6" cy="1653.8" r="10.45"/>
<circle cx="1718.6" cy="1659.2" r="10.45"/>
<circle cx="1706.6" cy="1664.7" r="10.45"/>
<circle cx="1682.4" cy="1663.8" r="10.45"/>
<circle cx="1674.9" cy="1647.6" r="10.45"/>
<circle cx="1667.5" cy="1631.5" r="10.45"/>
<circle cx="1643.3" cy="1625.9" r="10.45"/>
<circle cx="1631.0" cy="1630.5" r="10.45"/>
<circle cx="1618.6" cy="1635.1" r="10.45"/>
<circle cx="1594.0" cy="1629.5" r="10.45"/>
<circle cx="1581.7" cy="1625.2" r="10.45"/>
<circle cx="1569.4" cy="1620.9" r="10.45"/>
<circle cx="1544.5" cy="1624.9" r="10.45"/>
<circle cx="1519.6" cy="1620.1" r="10.45"/>
<circle cx="1494.7" cy="1616.2" r="10.45"/>
<circle cx="1469.8" cy="1612.3" r="10.45"/>
<circle cx="1444.8" cy="1617.2" r="10.45"/>
<circle cx="1419.8" cy="1613.3" r="10.45"/>
<circle cx="1407.4" cy="1607.8" r="10.45"/>
<circle cx="1394.9" cy="1602.4" r="10.45"/>
<circle cx="1382.4" cy="1606.8" r="10.45"/>
<circle cx="1369.9" cy="1611.2" r="10.45"/>
<circle cx="1344.9" cy="1615.1" r="10.45"/>
<circle cx="1332.4" cy="1609.6" r="10.45"/>
<circle cx="1319.9" cy="1604.2" r="10.45"/>
<circle cx="1302.5" cy="1588.6" r="10.45"/>
<circle cx="1302.5" cy="1573.8" r="10.45"/>
<circle cx="1302.5" cy="1558.9" r="10.45"/>
<circle cx="1302.5" cy="1544.1" r="10.45"/>
<circle cx="1302.5" cy="1527.6" r="10.45"/>
<circle cx="1302.5" cy="1511.2" r="10.45"/>
<circle cx="1302.5" cy="1494.7" r="10.45"/>
<circle cx="1302.5" cy="1481.1" r="10.45"/>
<circle cx="1525.5" cy="1087.4" r="10.45"/>
<circle cx="1412.0" cy="1187.3" r="10.45"/>
<circle cx="1552.5" cy="1275.2" r="10.45"/>
<circle cx="1498.2" cy="1290.2" r="10.45"/>
<circle cx="1465.0" cy="1302.2" r="10.45"/>
<circle cx="1323.2" cy="1308.6" r="10.45"/>
<circle cx="1447.5" cy="1331.0" r="10.45"/>
<circle cx="1542.5" cy="1321.5" r="10.45"/>
<circle cx="1552.5" cy="1341.9" r="10.45"/>
<circle cx="1568.0" cy="1343.4" r="10.45"/>
<circle cx="1262.0" cy="1352.6" r="10.45"/>
<circle cx="1366.2" cy="1341.0" r="10.45"/>
<circle cx="1373.8" cy="1353.9" r="10.45"/>
<circle cx="1393.0" cy="1363.5" r="10.45"/>
<circle cx="1418.0" cy="1343.9" r="10.45"/>
<circle cx="1471.2" cy="1353.3" r="10.45"/>
<circle cx="1477.0" cy="1356.0" r="10.45"/>
<circle cx="1426.5" cy="1370.8" r="10.45"/>
<circle cx="1449.5" cy="1377.3" r="10.45"/>
<circle cx="1363.8" cy="1369.2" r="10.45"/>
<circle cx="1376.2" cy="1375.7" r="10.45"/>
<circle cx="1513.8" cy="1369.0" r="10.45"/>
<circle cx="1543.2" cy="1377.3" r="10.45"/>
<circle cx="1515.0" cy="1387.8" r="10.45"/>
<circle cx="1510.0" cy="1398.8" r="10.45"/>
<circle cx="1530.0" cy="1408.4" r="10.45"/>
<circle cx="1332.5" cy="1383.3" r="10.45"/>
<circle cx="1337.5" cy="1395.2" r="10.45"/>
<circle cx="1309.5" cy="1401.0" r="10.45"/>
<circle cx="1378.2" cy="1400.3" r="10.45"/>
<circle cx="1402.0" cy="1406.4" r="10.45"/>
<circle cx="1423.2" cy="1403.6" r="10.45"/>
<circle cx="1440.0" cy="1408.9" r="10.45"/>
<circle cx="1463.2" cy="1406.7" r="10.45"/>
<circle cx="1481.2" cy="1408.2" r="10.45"/>
<circle cx="1590.0" cy="1368.6" r="10.45"/>
<circle cx="1605.5" cy="1359.8" r="10.45"/>
<circle cx="1630.0" cy="1362.2" r="10.45"/>
<circle cx="1621.2" cy="1380.1" r="10.45"/>
<circle cx="1622.5" cy="1391.4" r="10.45"/>
<circle cx="1643.8" cy="1389.8" r="10.45"/>
<circle cx="1642.5" cy="1401.0" r="10.45"/>
<circle cx="1601.2" cy="1397.9" r="10.45"/>
<circle cx="1587.5" cy="1387.3" r="10.45"/>
<circle cx="1671.2" cy="1356.8" r="10.45"/>
<circle cx="1681.2" cy="1370.3" r="10.45"/>
<circle cx="1681.2" cy="1387.8" r="10.45"/>
<circle cx="1700.0" cy="1369.9" r="10.45"/>
<circle cx="1708.8" cy="1367.8" r="10.45"/>
<circle cx="1723.8" cy="1368.4" r="10.45"/>
<circle cx="1707.5" cy="1385.2" r="10.45"/>
<circle cx="1701.2" cy="1396.2" r="10.45"/>
<circle cx="1713.8" cy="1397.2" r="10.45"/>
<circle cx="1688.8" cy="1411.1" r="10.45"/>
<circle cx="1552.5" cy="1400.7" r="10.45"/>
<circle cx="1572.5" cy="1402.9" r="10.45"/>
<circle cx="1587.5" cy="1416.0" r="10.45"/>
<circle cx="1575.0" cy="1426.7" r="10.45"/>
<circle cx="1550.0" cy="1418.1" r="10.45"/>
<circle cx="1647.5" cy="1420.0" r="10.45"/>
<circle cx="1626.2" cy="1417.8" r="10.45"/>
<circle cx="1617.5" cy="1423.6" r="10.45"/>
<circle cx="1717.5" cy="1431.9" r="10.45"/>
<circle cx="1675.0" cy="1441.2" r="10.45"/>
<circle cx="1688.8" cy="1434.4" r="10.45"/>
<circle cx="1262.0" cy="1428.8" r="10.45"/>
<circle cx="1289.2" cy="1443.8" r="10.45"/>
<circle cx="1304.5" cy="1423.3" r="10.45"/>
<circle cx="1345.0" cy="1417.6" r="10.45"/>
<circle cx="1325.0" cy="1410.4" r="10.45"/>
<circle cx="1467.5" cy="1433.1" r="10.45"/>
<circle cx="1455.0" cy="1421.3" r="10.45"/>
<circle cx="1490.0" cy="1439.1" r="10.45"/>
<circle cx="1515.0" cy="1430.3" r="10.45"/>
<circle cx="1607.5" cy="1450.7" r="10.45"/>
<circle cx="1652.5" cy="1450.2" r="10.45"/>
<circle cx="1300.0" cy="1471.8" r="10.45"/>
<circle cx="1301.2" cy="1481.9" r="10.45"/>
<circle cx="1315.0" cy="1500.0" r="10.45"/>
<circle cx="1302.5" cy="1519.4" r="10.45"/>
<circle cx="1755.5" cy="1301.9" r="10.45"/>
<circle cx="1872.8" cy="1307.2" r="10.45"/>
<circle cx="2072.2" cy="1266.7" r="10.45"/>
<circle cx="2052.2" cy="1302.0" r="10.45"/>
<circle cx="2001.0" cy="1309.7" r="10.45"/>
<circle cx="2001.0" cy="1324.7" r="10.45"/>
<circle cx="2039.8" cy="1326.5" r="10.45"/>
<circle cx="2053.0" cy="1334.6" r="10.45"/>
<circle cx="1931.8" cy="1327.8" r="10.45"/>
<circle cx="1969.2" cy="1344.5" r="10.45"/>
<circle cx="1997.8" cy="1348.3" r="10.45"/>
<circle cx="1856.0" cy="1348.2" r="10.45"/>
<circle cx="1848.5" cy="1354.1" r="10.45"/>
<circle cx="1852.2" cy="1360.5" r="10.45"/>
<circle cx="1906.0" cy="1365.4" r="10.45"/>
<circle cx="2061.0" cy="1366.2" r="10.45"/>
<circle cx="2062.2" cy="1373.7" r="10.45"/>
<circle cx="2048.5" cy="1378.1" r="10.45"/>
<circle cx="1755.5" cy="1365.6" r="10.45"/>
<circle cx="1834.8" cy="1378.5" r="10.45"/>
<circle cx="1843.5" cy="1380.1" r="10.45"/>
<circle cx="1792.2" cy="1389.0" r="10.45"/>
<circle cx="1788.5" cy="1396.4" r="10.45"/>
<circle cx="1774.0" cy="1404.5" r="10.45"/>
<circle cx="1747.2" cy="1384.5" r="10.45"/>
<circle cx="1752.2" cy="1397.2" r="10.45"/>
<circle cx="1741.0" cy="1411.7" r="10.45"/>
<circle cx="1904.8" cy="1392.9" r="10.45"/>
<circle cx="1939.8" cy="1392.0" r="10.45"/>
<circle cx="1946.0" cy="1408.5" r="10.45"/>
<circle cx="1969.8" cy="1388.3" r="10.45"/>
<circle cx="1991.0" cy="1393.0" r="10.45"/>
<circle cx="2004.8" cy="1396.1" r="10.45"/>
<circle cx="1997.2" cy="1414.6" r="10.45"/>
<circle cx="1997.2" cy="1432.1" r="10.45"/>
<circle cx="1987.2" cy="1434.1" r="10.45"/>
<circle cx="2056.8" cy="1403.5" r="10.45"/>
<circle cx="2048.5" cy="1418.1" r="10.45"/>
<circle cx="2072.8" cy="1421.7" r="10.45"/>
<circle cx="2097.2" cy="1405.3" r="10.45"/>
<circle cx="2144.0" cy="1416.7" r="10.45"/>
<circle cx="2132.2" cy="1430.7" r="10.45"/>
<circle cx="2129.8" cy="1443.0" r="10.45"/>
<circle cx="2103.5" cy="1448.1" r="10.45"/>
<circle cx="2050.5" cy="1437.0" r="10.45"/>
<circle cx="2062.2" cy="1446.2" r="10.45"/>
<circle cx="2144.8" cy="1478.7" r="10.45"/>
<circle cx="2146.0" cy="1517.5" r="10.45"/>
<circle cx="2144.8" cy="1537.5" r="10.45"/>
<circle cx="2144.8" cy="1557.5" r="10.45"/>
<circle cx="1847.2" cy="1415.3" r="10.45"/>
<circle cx="1868.5" cy="1410.0" r="10.45"/>
<circle cx="1891.0" cy="1421.0" r="10.45"/>
<circle cx="1896.0" cy="1436.2" r="10.45"/>
<circle cx="1824.8" cy="1433.0" r="10.45"/>
<circle cx="1928.5" cy="1427.7" r="10.45"/>
<circle cx="1961.0" cy="1432.9" r="10.45"/>
<circle cx="1931.0" cy="1435.3" r="10.45"/>
<circle cx="1841.0" cy="1452.5" r="10.45"/>
<circle cx="1886.0" cy="1463.3" r="10.45"/>
<circle cx="1913.5" cy="1452.0" r="10.45"/>
<circle cx="1771.0" cy="1435.6" r="10.45"/>
<circle cx="1718.5" cy="1430.7" r="10.45"/>
<circle cx="1807.2" cy="1447.2" r="10.45"/>
<circle cx="1743.5" cy="1429.3" r="10.45"/>
<circle cx="2016.0" cy="1459.2" r="10.45"/>
<circle cx="2042.2" cy="1512.8" r="10.45"/>
<circle cx="1706.0" cy="1367.6" r="10.45"/>
<circle cx="1691.0" cy="1387.0" r="10.45"/>
<circle cx="1708.5" cy="1395.3" r="10.45"/>
<circle cx="1688.5" cy="1410.6" r="10.45"/>
<circle cx="1718.5" cy="1438.2" r="10.45"/>
<circle cx="1288.8" cy="1723.8" r="10.45"/>
<circle cx="1305.5" cy="1730.8" r="10.45"/>
<circle cx="1311.2" cy="1749.8" r="10.45"/>
<circle cx="1327.5" cy="1753.1" r="10.45"/>
<circle cx="1326.8" cy="1773.0" r="10.45"/>
<circle cx="1308.2" cy="1832.7" r="10.45"/>
<circle cx="1379.2" cy="1842.9" r="10.45"/>
<circle cx="1399.2" cy="1810.1" r="10.45"/>
<circle cx="1435.0" cy="1837.4" r="10.45"/>
<circle cx="1435.0" cy="1872.9" r="10.45"/>
<circle cx="1498.0" cy="1904.5" r="10.45"/>
<circle cx="1437.5" cy="1763.0" r="10.45"/>
<circle cx="1437.5" cy="1783.1" r="10.45"/>
<circle cx="1498.0" cy="1767.0" r="10.45"/>
<circle cx="1490.5" cy="1790.4" r="10.45"/>
<circle cx="1522.5" cy="1775.6" r="10.45"/>
<circle cx="1522.0" cy="1788.1" r="10.45"/>
<circle cx="1551.8" cy="1790.7" r="10.45"/>
<circle cx="1658.8" cy="1783.0" r="10.45"/>
<circle cx="1658.0" cy="1792.5" r="10.45"/>
<circle cx="1580.5" cy="1744.0" r="10.45"/>
<circle cx="1698.8" cy="1753.6" r="10.45"/>
<circle cx="1716.2" cy="1751.9" r="10.45"/>
<circle cx="1478.0" cy="1738.6" r="10.45"/>
<circle cx="1490.0" cy="1724.2" r="10.45"/>
<circle cx="1464.5" cy="1714.3" r="10.45"/>
<circle cx="1542.5" cy="1719.8" r="10.45"/>
<circle cx="1555.0" cy="1705.9" r="10.45"/>
<circle cx="1559.5" cy="1724.8" r="10.45"/>
<circle cx="1597.5" cy="1699.0" r="10.45"/>
<circle cx="1611.2" cy="1723.4" r="10.45"/>
<circle cx="1618.8" cy="1719.5" r="10.45"/>
<circle cx="1662.5" cy="1721.5" r="10.45"/>
<circle cx="1673.8" cy="1731.2" r="10.45"/>
<circle cx="1677.5" cy="1717.6" r="10.45"/>
<circle cx="1682.5" cy="1716.6" r="10.45"/>
<circle cx="1710.0" cy="1709.9" r="10.45"/>
<circle cx="1723.8" cy="1716.0" r="10.45"/>
<circle cx="1371.2" cy="1713.0" r="10.45"/>
<circle cx="1365.0" cy="1692.3" r="10.45"/>
<circle cx="1348.8" cy="1687.8" r="10.45"/>
<circle cx="1340.0" cy="1681.6" r="10.45"/>
<circle cx="1358.8" cy="1672.0" r="10.45"/>
<circle cx="1390.0" cy="1667.6" r="10.45"/>
<circle cx="1420.0" cy="1682.7" r="10.45"/>
<circle cx="1420.0" cy="1669.7" r="10.45"/>
<circle cx="1415.0" cy="1659.5" r="10.45"/>
<circle cx="1451.2" cy="1669.9" r="10.45"/>
<circle cx="1478.8" cy="1682.4" r="10.45"/>
<circle cx="1487.5" cy="1675.3" r="10.45"/>
<circle cx="1497.5" cy="1665.7" r="10.45"/>
<circle cx="1515.0" cy="1680.3" r="10.45"/>
<circle cx="1522.5" cy="1671.9" r="10.45"/>
<circle cx="1318.2" cy="1646.9" r="10.45"/>
<circle cx="1313.8" cy="1636.9" r="10.45"/>
<circle cx="1348.8" cy="1642.8" r="10.45"/>
<circle cx="1378.8" cy="1648.4" r="10.45"/>
<circle cx="1395.0" cy="1644.9" r="10.45"/>
<circle cx="1406.2" cy="1649.1" r="10.45"/>
<circle cx="1453.8" cy="1651.3" r="10.45"/>
<circle cx="1472.5" cy="1659.6" r="10.45"/>
<circle cx="1476.2" cy="1649.8" r="10.45"/>
<circle cx="1545.0" cy="1649.1" r="10.45"/>
<circle cx="1569.5" cy="1661.5" r="10.45"/>
<circle cx="1591.2" cy="1661.7" r="10.45"/>
<circle cx="1608.8" cy="1671.3" r="10.45"/>
<circle cx="1618.8" cy="1652.5" r="10.45"/>
<circle cx="1612.5" cy="1645.9" r="10.45"/>
<circle cx="1645.0" cy="1657.4" r="10.45"/>
<circle cx="1655.0" cy="1670.4" r="10.45"/>
<circle cx="1640.0" cy="1684.7" r="10.45"/>
<circle cx="1650.0" cy="1690.1" r="10.45"/>
<circle cx="1667.5" cy="1690.9" r="10.45"/>
<circle cx="1682.5" cy="1681.6" r="10.45"/>
<circle cx="1700.0" cy="1687.4" r="10.45"/>
<circle cx="1702.5" cy="1667.5" r="10.45"/>
<circle cx="1715.0" cy="1665.6" r="10.45"/>
<circle cx="1726.2" cy="1676.1" r="10.45"/>
<circle cx="1667.5" cy="1643.4" r="10.45"/>
<circle cx="1707.5" cy="1645.2" r="10.45"/>
<circle cx="1575.0" cy="1639.2" r="10.45"/>
<circle cx="1560.0" cy="1618.6" r="10.45"/>
<circle cx="1550.0" cy="1643.1" r="10.45"/>
<circle cx="1530.0" cy="1636.0" r="10.45"/>
<circle cx="1507.5" cy="1633.7" r="10.45"/>
<circle cx="1435.0" cy="1635.4" r="10.45"/>
<circle cx="1422.5" cy="1637.4" r="10.45"/>
<circle cx="1460.0" cy="1631.6" r="10.45"/>
<circle cx="1387.5" cy="1618.3" r="10.45"/>
<circle cx="1370.0" cy="1622.5" r="10.45"/>
<circle cx="1347.5" cy="1621.5" r="10.45"/>
<circle cx="1335.0" cy="1628.4" r="10.45"/>
<circle cx="1312.5" cy="1609.9" r="10.45"/>
<circle cx="1305.0" cy="1592.0" r="10.45"/>
<circle cx="1302.5" cy="1569.4" r="10.45"/>
<circle cx="1300.0" cy="1544.3" r="10.45"/>
<circle cx="1302.5" cy="1519.4" r="10.45"/>
<circle cx="2132.2" cy="1821.2" r="10.45"/>
<circle cx="1911.0" cy="1775.7" r="10.45"/>
<circle cx="1945.5" cy="1786.5" r="10.45"/>
<circle cx="1963.0" cy="1783.0" r="10.45"/>
<circle cx="1898.0" cy="1698.4" r="10.45"/>
<circle cx="1835.2" cy="1716.0" r="10.45"/>
<circle cx="2017.2" cy="1678.0" r="10.45"/>
<circle cx="2053.5" cy="1674.6" r="10.45"/>
<circle cx="2057.2" cy="1654.8" r="10.45"/>
<circle cx="2082.2" cy="1674.2" r="10.45"/>
<circle cx="2092.2" cy="1682.6" r="10.45"/>
<circle cx="2093.0" cy="1636.4" r="10.45"/>
<circle cx="2123.0" cy="1625.3" r="10.45"/>
<circle cx="2138.5" cy="1607.2" r="10.45"/>
<circle cx="2147.2" cy="1620.1" r="10.45"/>
<circle cx="2143.5" cy="1641.2" r="10.45"/>
<circle cx="2145.5" cy="1577.5" r="10.45"/>
<circle cx="2131.0" cy="1569.4" r="10.45"/>
<circle cx="2097.2" cy="1612.8" r="10.45"/>
<circle cx="2101.0" cy="1605.5" r="10.45"/>
<circle cx="2053.5" cy="1605.9" r="10.45"/>
<circle cx="2034.8" cy="1617.5" r="10.45"/>
<circle cx="1997.2" cy="1632.1" r="10.45"/>
<circle cx="1976.0" cy="1632.4" r="10.45"/>
<circle cx="1959.8" cy="1624.1" r="10.45"/>
<circle cx="1951.0" cy="1615.0" r="10.45"/>
<circle cx="1928.5" cy="1616.5" r="10.45"/>
<circle cx="1966.0" cy="1596.9" r="10.45"/>
<circle cx="1948.5" cy="1591.1" r="10.45"/>
<circle cx="1949.8" cy="1647.4" r="10.45"/>
<circle cx="1958.5" cy="1660.3" r="10.45"/>
<circle cx="1943.5" cy="1660.9" r="10.45"/>
<circle cx="1914.8" cy="1660.9" r="10.45"/>
<circle cx="1900.5" cy="1664.5" r="10.45"/>
<circle cx="1912.2" cy="1642.0" r="10.45"/>
<circle cx="1879.8" cy="1638.0" r="10.45"/>
<circle cx="1868.5" cy="1630.0" r="10.45"/>
<circle cx="1856.0" cy="1662.7" r="10.45"/>
<circle cx="1833.5" cy="1672.2" r="10.45"/>
<circle cx="1816.0" cy="1672.6" r="10.45"/>
<circle cx="1811.0" cy="1658.7" r="10.45"/>
<circle cx="1811.0" cy="1644.9" r="10.45"/>
<circle cx="1831.0" cy="1630.8" r="10.45"/>
<circle cx="1842.2" cy="1628.8" r="10.45"/>
<circle cx="1791.0" cy="1614.0" r="10.45"/>
<circle cx="1774.8" cy="1628.3" r="10.45"/>
<circle cx="1761.0" cy="1645.2" r="10.45"/>
<circle cx="1756.0" cy="1652.4" r="10.45"/>
<circle cx="1753.5" cy="1672.3" r="10.45"/>
<circle cx="1759.8" cy="1680.1" r="10.45"/>
<circle cx="1726.0" cy="1676.1" r="10.45"/>
<circle cx="1706.0" cy="1667.7" r="10.45"/>
<circle cx="1701.0" cy="1687.4" r="10.45"/>
<circle cx="1709.8" cy="1645.3" r="10.45"/>
<circle cx="1738.5" cy="1614.1" r="10.45"/>
<circle cx="2001.0" cy="1608.5" r="10.45"/>
<circle cx="2013.5" cy="1609.1" r="10.45"/>
<circle cx="2071.0" cy="1604.2" r="10.45"/>
<circle cx="2146.0" cy="1537.5" r="10.45"/>
<circle cx="2141.0" cy="1559.8" r="10.45"/>
</g>
<rect x="1253.6" y="1081.3" width="916.2" height="892.4" fill="none" stroke="#000" stroke-width="2.44" stroke-linejoin="miter"/>
<path d="M1242.9 1973.70H1253.6M1242.9 1824.97H1253.6M1242.9 1676.23H1253.6M1242.9 1527.50H1253.6M1242.9 1378.77H1253.6M1242.9 1230.03H1253.6M1242.9 1081.30H1253.6M1306.26 1973.7V1984.4M1411.57 1973.7V1984.4M1516.88 1973.7V1984.4M1622.19 1973.7V1984.4M1727.50 1973.7V1984.4M1832.81 1973.7V1984.4M1938.12 1973.7V1984.4M2043.43 1973.7V1984.4M2148.74 1973.7V1984.4" stroke="#000" stroke-width="2.44" fill="none"/>
<g font-family="DejaVu Sans, sans-serif" font-size="30.56" fill="#000">
<text transform="translate(1232.2,1985.6) scale(1,1.065)" text-anchor="end">−1.5</text>
<text transform="translate(1232.2,1836.9) scale(1,1.065)" text-anchor="end">−1.0</text>
<text transform="translate(1232.2,1688.1) scale(1,1.065)" text-anchor="end">−0.5</text>
<text transform="translate(1232.2,1539.4) scale(1,1.065)" text-anchor="end">0.0</text>
<text transform="translate(1232.2,1390.7) scale(1,1.065)" text-anchor="end">0.5</text>
<text transform="translate(1232.2,1241.9) scale(1,1.065)" text-anchor="end">1.0</text>
<text transform="translate(1232.2,1093.2) scale(1,1.065)" text-anchor="end">1.5</text>
<text transform="translate(1306.8,2018.9) scale(1,1.065)" text-anchor="middle">−80</text>
<text transform="translate(1412.1,2018.9) scale(1,1.065)" text-anchor="middle">−70</text>
<text transform="translate(1517.4,2018.9) scale(1,1.065)" text-anchor="middle">−60</text>
<text transform="translate(1622.7,2018.9) scale(1,1.065)" text-anchor="middle">−50</text>
<text transform="translate(1728.0,2018.9) scale(1,1.065)" text-anchor="middle">−40</text>
<text transform="translate(1833.3,2018.9) scale(1,1.065)" text-anchor="middle">−30</text>
<text transform="translate(1938.6,2018.9) scale(1,1.065)" text-anchor="middle">−20</text>
<text transform="translate(2043.9,2018.9) scale(1,1.065)" text-anchor="middle">−10</text>
<text transform="translate(2149.2,2018.9) scale(1,1.065)" text-anchor="middle">0</text>
</g>
<text x="1711.7" y="2070.5" text-anchor="middle" font-family="DejaVu Sans, sans-serif" font-size="45.35">Declination (deg)</text>
<text transform="translate(1133.9,1528.7) rotate(-90)" text-anchor="middle" font-family="DejaVu Sans, sans-serif" font-size="45.35">Δ [Fe/H]_GALAH</text>
<text x="190.6" y="92.3" font-family="DejaVu Sans, sans-serif" font-size="45.35" font-weight="bold"><tspan font-weight="normal">Δ</tspan><tspan> [Fe/H] = 0.0018*|b| - 0.222</tspan></text>
<text x="1290.3" y="92.3" font-family="DejaVu Sans, sans-serif" font-size="45.35" font-weight="bold"><tspan font-weight="normal">Δ</tspan><tspan> [Fe/H] = 0.0016*</tspan><tspan font-style="italic" font-weight="normal">δ</tspan><tspan> + 0.073</tspan></text>
</svg></body></html>
